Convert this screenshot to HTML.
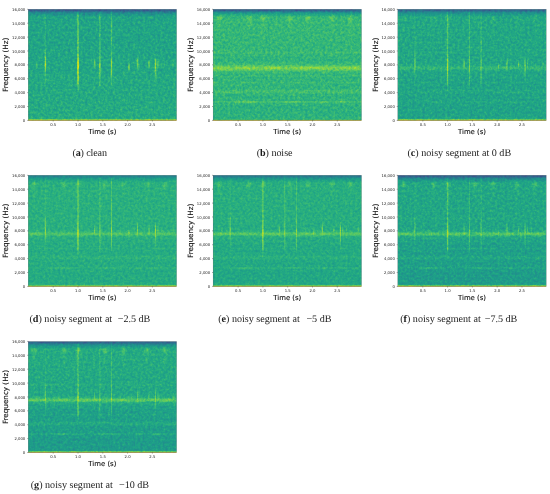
<!DOCTYPE html>
<html lang="en"><head><meta charset="utf-8"><title>Spectrograms</title>
<style>
html,body{margin:0;padding:0;background:#fff;}
body{width:550px;height:494px;overflow:hidden;}
svg{display:block;}
text{text-rendering:geometricPrecision;}
.tk{font-family:"DejaVu Sans","Liberation Sans",sans-serif;font-size:3.8px;fill:#222;}
.lb{font-family:"DejaVu Sans","Liberation Sans",sans-serif;font-size:6.9px;fill:#111;stroke:#111;stroke-width:0.12px;}
.ly{font-size:7.2px;}
.cp{font-family:"Liberation Serif","DejaVu Serif",serif;font-size:10.1px;fill:#1a1a1a;}
</style></head><body>
<svg width="550" height="494" viewBox="0 0 550 494">
<defs><radialGradient id="rw"><stop offset="0" stop-color="#fff" stop-opacity="1"/><stop offset="0.45" stop-color="#fff" stop-opacity="0.7"/><stop offset="1" stop-color="#fff" stop-opacity="0"/></radialGradient><filter id="f0" filterUnits="userSpaceOnUse" x="-2" y="-2" width="152.4" height="115.1" color-interpolation-filters="sRGB"><feTurbulence type="fractalNoise" baseFrequency="0.4 0.4" numOctaves="3" seed="3" result="n"/><feColorMatrix in="n" type="matrix" values="1 0 0 0 0 1 0 0 0 0 1 0 0 0 0 0 0 0 0 1" result="ng"/><feGaussianBlur in="SourceGraphic" stdDeviation="0.35" result="sg"/><feComposite in="sg" in2="ng" operator="arithmetic" k1="0" k2="1" k3="0.25" k4="-0.125" result="sum"/><feComponentTransfer in="sum"><feFuncR type="table" tableValues="0.267 0.277 0.282 0.283 0.279 0.271 0.259 0.245 0.230 0.214 0.199 0.186 0.173 0.161 0.149 0.138 0.128 0.121 0.121 0.132 0.158 0.197 0.246 0.304 0.369 0.440 0.516 0.596 0.678 0.762 0.846 0.926 0.993"/><feFuncG type="table" tableValues="0.005 0.050 0.095 0.136 0.175 0.214 0.252 0.288 0.322 0.356 0.388 0.419 0.449 0.479 0.508 0.537 0.567 0.596 0.626 0.655 0.684 0.712 0.739 0.765 0.789 0.811 0.831 0.849 0.864 0.876 0.887 0.897 0.906"/><feFuncB type="table" tableValues="0.329 0.376 0.417 0.453 0.483 0.507 0.525 0.537 0.546 0.551 0.555 0.557 0.558 0.558 0.557 0.555 0.551 0.544 0.533 0.520 0.502 0.479 0.452 0.420 0.383 0.341 0.294 0.243 0.190 0.137 0.100 0.104 0.144"/><feFuncA type="linear" slope="0" intercept="1"/></feComponentTransfer></filter><clipPath id="c0"><rect x="0" y="0" width="148.4" height="111.1"/></clipPath><linearGradient id="g1" x1="0" y1="0" x2="0" y2="1"><stop offset="0.000" stop-color="#000" stop-opacity="0.017"/><stop offset="0.282" stop-color="#000" stop-opacity="0.015"/><stop offset="0.453" stop-color="#000" stop-opacity="0.007"/><stop offset="0.504" stop-color="#fff" stop-opacity="0.000"/><stop offset="0.555" stop-color="#fff" stop-opacity="0.000"/><stop offset="0.589" stop-color="#fff" stop-opacity="0.025"/><stop offset="0.828" stop-color="#fff" stop-opacity="0.037"/><stop offset="0.854" stop-color="#fff" stop-opacity="0.049"/><stop offset="1.000" stop-color="#fff" stop-opacity="0.049"/></linearGradient><linearGradient id="g2" x1="0" y1="0" x2="0" y2="1"><stop offset="0.000" stop-color="#fff" stop-opacity="0.325"/><stop offset="0.216" stop-color="#fff" stop-opacity="0.350"/><stop offset="0.510" stop-color="#fff" stop-opacity="0.374"/><stop offset="0.571" stop-color="#fff" stop-opacity="0.547"/><stop offset="0.657" stop-color="#fff" stop-opacity="0.768"/><stop offset="0.743" stop-color="#fff" stop-opacity="0.596"/><stop offset="0.890" stop-color="#fff" stop-opacity="0.424"/><stop offset="0.902" stop-color="#fff" stop-opacity="0.177"/><stop offset="0.975" stop-color="#fff" stop-opacity="0.103"/><stop offset="1.000" stop-color="#fff" stop-opacity="0.000"/></linearGradient><linearGradient id="g3" x1="0" y1="0" x2="0" y2="1"><stop offset="0.000" stop-color="#fff" stop-opacity="0.251"/><stop offset="0.497" stop-color="#fff" stop-opacity="0.251"/><stop offset="0.630" stop-color="#fff" stop-opacity="0.374"/><stop offset="0.709" stop-color="#fff" stop-opacity="0.621"/><stop offset="0.788" stop-color="#fff" stop-opacity="0.399"/><stop offset="0.960" stop-color="#fff" stop-opacity="0.227"/><stop offset="1.000" stop-color="#fff" stop-opacity="0.000"/></linearGradient><linearGradient id="g4" x1="0" y1="0" x2="0" y2="1"><stop offset="0.000" stop-color="#fff" stop-opacity="0.300"/><stop offset="0.504" stop-color="#fff" stop-opacity="0.300"/><stop offset="0.638" stop-color="#fff" stop-opacity="0.424"/><stop offset="0.718" stop-color="#fff" stop-opacity="0.670"/><stop offset="0.799" stop-color="#fff" stop-opacity="0.448"/><stop offset="0.960" stop-color="#fff" stop-opacity="0.276"/><stop offset="1.000" stop-color="#fff" stop-opacity="0.000"/></linearGradient><linearGradient id="g5" x1="0" y1="0" x2="0" y2="1"><stop offset="0.000" stop-color="#fff" stop-opacity="0.128"/><stop offset="0.497" stop-color="#fff" stop-opacity="0.128"/><stop offset="0.537" stop-color="#fff" stop-opacity="0.350"/><stop offset="0.630" stop-color="#fff" stop-opacity="0.498"/><stop offset="0.696" stop-color="#fff" stop-opacity="0.695"/><stop offset="0.762" stop-color="#fff" stop-opacity="0.498"/><stop offset="0.815" stop-color="#fff" stop-opacity="0.300"/><stop offset="0.841" stop-color="#fff" stop-opacity="0.153"/><stop offset="0.960" stop-color="#fff" stop-opacity="0.128"/><stop offset="1.000" stop-color="#fff" stop-opacity="0.000"/></linearGradient><linearGradient id="g6" x1="0" y1="0" x2="0" y2="1"><stop offset="0.000" stop-color="#fff" stop-opacity="0.000"/><stop offset="0.250" stop-color="#fff" stop-opacity="0.121"/><stop offset="0.500" stop-color="#fff" stop-opacity="0.202"/><stop offset="0.750" stop-color="#fff" stop-opacity="0.101"/><stop offset="1.000" stop-color="#fff" stop-opacity="0.000"/></linearGradient><linearGradient id="g7" x1="0" y1="0" x2="0" y2="1"><stop offset="0.000" stop-color="#fff" stop-opacity="0.000"/><stop offset="0.250" stop-color="#fff" stop-opacity="0.299"/><stop offset="0.500" stop-color="#fff" stop-opacity="0.498"/><stop offset="0.750" stop-color="#fff" stop-opacity="0.249"/><stop offset="1.000" stop-color="#fff" stop-opacity="0.000"/></linearGradient><linearGradient id="g8" x1="0" y1="0" x2="0" y2="1"><stop offset="0.000" stop-color="#fff" stop-opacity="0.000"/><stop offset="0.250" stop-color="#fff" stop-opacity="0.106"/><stop offset="0.500" stop-color="#fff" stop-opacity="0.177"/><stop offset="0.750" stop-color="#fff" stop-opacity="0.089"/><stop offset="1.000" stop-color="#fff" stop-opacity="0.000"/></linearGradient><linearGradient id="g9" x1="0" y1="0" x2="0" y2="1"><stop offset="0.000" stop-color="#fff" stop-opacity="0.000"/><stop offset="0.250" stop-color="#fff" stop-opacity="0.284"/><stop offset="0.500" stop-color="#fff" stop-opacity="0.473"/><stop offset="0.750" stop-color="#fff" stop-opacity="0.236"/><stop offset="1.000" stop-color="#fff" stop-opacity="0.000"/></linearGradient><linearGradient id="g10" x1="0" y1="0" x2="0" y2="1"><stop offset="0.000" stop-color="#fff" stop-opacity="0.000"/><stop offset="0.250" stop-color="#fff" stop-opacity="0.343"/><stop offset="0.500" stop-color="#fff" stop-opacity="0.571"/><stop offset="0.750" stop-color="#fff" stop-opacity="0.286"/><stop offset="1.000" stop-color="#fff" stop-opacity="0.000"/></linearGradient><linearGradient id="g11" x1="0" y1="0" x2="0" y2="1"><stop offset="0.000" stop-color="#fff" stop-opacity="0.000"/><stop offset="0.250" stop-color="#fff" stop-opacity="0.284"/><stop offset="0.500" stop-color="#fff" stop-opacity="0.473"/><stop offset="0.750" stop-color="#fff" stop-opacity="0.236"/><stop offset="1.000" stop-color="#fff" stop-opacity="0.000"/></linearGradient><linearGradient id="g12" x1="0" y1="0" x2="0" y2="1"><stop offset="0.000" stop-color="#fff" stop-opacity="0.000"/><stop offset="0.166" stop-color="#fff" stop-opacity="0.402"/><stop offset="0.332" stop-color="#fff" stop-opacity="0.670"/><stop offset="0.666" stop-color="#fff" stop-opacity="0.335"/><stop offset="1.000" stop-color="#fff" stop-opacity="0.000"/></linearGradient><linearGradient id="g13" x1="0" y1="0" x2="0" y2="1"><stop offset="0.000" stop-color="#fff" stop-opacity="0.000"/><stop offset="0.250" stop-color="#fff" stop-opacity="0.254"/><stop offset="0.500" stop-color="#fff" stop-opacity="0.424"/><stop offset="0.750" stop-color="#fff" stop-opacity="0.212"/><stop offset="1.000" stop-color="#fff" stop-opacity="0.000"/></linearGradient><linearGradient id="g14" x1="0" y1="0" x2="0" y2="1"><stop offset="0.000" stop-color="#fff" stop-opacity="0.000"/><stop offset="0.250" stop-color="#fff" stop-opacity="0.121"/><stop offset="0.500" stop-color="#fff" stop-opacity="0.202"/><stop offset="0.750" stop-color="#fff" stop-opacity="0.101"/><stop offset="1.000" stop-color="#fff" stop-opacity="0.000"/></linearGradient><linearGradient id="g15" x1="0" y1="0" x2="0" y2="1"><stop offset="0.000" stop-color="#fff" stop-opacity="0.000"/><stop offset="0.250" stop-color="#fff" stop-opacity="0.166"/><stop offset="0.500" stop-color="#fff" stop-opacity="0.276"/><stop offset="0.750" stop-color="#fff" stop-opacity="0.138"/><stop offset="1.000" stop-color="#fff" stop-opacity="0.000"/></linearGradient><linearGradient id="g16" x1="0" y1="0" x2="0" y2="1"><stop offset="0.000" stop-color="#000" stop-opacity="0.495"/><stop offset="0.383" stop-color="#000" stop-opacity="0.478"/><stop offset="0.504" stop-color="#000" stop-opacity="0.257"/><stop offset="0.661" stop-color="#000" stop-opacity="0.129"/><stop offset="0.835" stop-color="#000" stop-opacity="0.040"/><stop offset="1.000" stop-color="#fff" stop-opacity="0.000"/></linearGradient><linearGradient id="g17" x1="0" y1="0" x2="0" y2="1"><stop offset="0.000" stop-color="#fff" stop-opacity="0.000"/><stop offset="0.120" stop-color="#fff" stop-opacity="0.433"/><stop offset="0.260" stop-color="#fff" stop-opacity="0.483"/><stop offset="0.340" stop-color="#fff" stop-opacity="0.828"/><stop offset="1.000" stop-color="#fff" stop-opacity="0.828"/></linearGradient><filter id="f1" filterUnits="userSpaceOnUse" x="-2" y="-2" width="152.4" height="115.1" color-interpolation-filters="sRGB"><feTurbulence type="fractalNoise" baseFrequency="0.4 0.4" numOctaves="3" seed="10" result="n"/><feColorMatrix in="n" type="matrix" values="1 0 0 0 0 1 0 0 0 0 1 0 0 0 0 0 0 0 0 1" result="ng"/><feGaussianBlur in="SourceGraphic" stdDeviation="0.35" result="sg"/><feComposite in="sg" in2="ng" operator="arithmetic" k1="0" k2="1" k3="0.23" k4="-0.115" result="sum"/><feComponentTransfer in="sum"><feFuncR type="table" tableValues="0.267 0.277 0.282 0.283 0.279 0.271 0.259 0.245 0.230 0.214 0.199 0.186 0.173 0.161 0.149 0.138 0.128 0.121 0.121 0.132 0.158 0.197 0.246 0.304 0.369 0.440 0.516 0.596 0.678 0.762 0.846 0.926 0.993"/><feFuncG type="table" tableValues="0.005 0.050 0.095 0.136 0.175 0.214 0.252 0.288 0.322 0.356 0.388 0.419 0.449 0.479 0.508 0.537 0.567 0.596 0.626 0.655 0.684 0.712 0.739 0.765 0.789 0.811 0.831 0.849 0.864 0.876 0.887 0.897 0.906"/><feFuncB type="table" tableValues="0.329 0.376 0.417 0.453 0.483 0.507 0.525 0.537 0.546 0.551 0.555 0.557 0.558 0.558 0.557 0.555 0.551 0.544 0.533 0.520 0.502 0.479 0.452 0.420 0.383 0.341 0.294 0.243 0.190 0.137 0.100 0.104 0.144"/><feFuncA type="linear" slope="0" intercept="1"/></feComponentTransfer></filter><clipPath id="c1"><rect x="0" y="0" width="148.4" height="111.1"/></clipPath><linearGradient id="g18" x1="0" y1="0" x2="0" y2="1"><stop offset="0.000" stop-color="#fff" stop-opacity="0.034"/><stop offset="0.534" stop-color="#fff" stop-opacity="0.034"/><stop offset="0.922" stop-color="#fff" stop-opacity="0.011"/><stop offset="1.000" stop-color="#fff" stop-opacity="0.000"/></linearGradient><linearGradient id="g19" x1="0" y1="0" x2="0" y2="1"><stop offset="0.000" stop-color="#fff" stop-opacity="0.000"/><stop offset="0.200" stop-color="#000" stop-opacity="0.015"/><stop offset="1.000" stop-color="#000" stop-opacity="0.018"/></linearGradient><linearGradient id="g20" x1="0" y1="0" x2="0" y2="1"><stop offset="0.000" stop-color="#fff" stop-opacity="0.000"/><stop offset="0.300" stop-color="#fff" stop-opacity="0.115"/><stop offset="0.700" stop-color="#fff" stop-opacity="0.115"/><stop offset="1.000" stop-color="#fff" stop-opacity="0.000"/></linearGradient><linearGradient id="g21" x1="0" y1="0" x2="0" y2="1"><stop offset="0.000" stop-color="#fff" stop-opacity="0.000"/><stop offset="0.300" stop-color="#fff" stop-opacity="0.216"/><stop offset="0.700" stop-color="#fff" stop-opacity="0.216"/><stop offset="1.000" stop-color="#fff" stop-opacity="0.000"/></linearGradient><linearGradient id="g22" x1="0" y1="0" x2="0" y2="1"><stop offset="0.000" stop-color="#fff" stop-opacity="0.000"/><stop offset="0.300" stop-color="#fff" stop-opacity="0.101"/><stop offset="0.700" stop-color="#fff" stop-opacity="0.101"/><stop offset="1.000" stop-color="#fff" stop-opacity="0.000"/></linearGradient><linearGradient id="g23" x1="0" y1="0" x2="0" y2="1"><stop offset="0.000" stop-color="#fff" stop-opacity="0.000"/><stop offset="0.300" stop-color="#fff" stop-opacity="0.086"/><stop offset="0.700" stop-color="#fff" stop-opacity="0.086"/><stop offset="1.000" stop-color="#fff" stop-opacity="0.000"/></linearGradient><linearGradient id="g24" x1="0" y1="0" x2="0" y2="1"><stop offset="0.000" stop-color="#fff" stop-opacity="0.000"/><stop offset="0.300" stop-color="#fff" stop-opacity="0.057"/><stop offset="0.700" stop-color="#fff" stop-opacity="0.057"/><stop offset="1.000" stop-color="#fff" stop-opacity="0.000"/></linearGradient><linearGradient id="g25" x1="0" y1="0" x2="0" y2="1"><stop offset="0.000" stop-color="#fff" stop-opacity="0.000"/><stop offset="0.300" stop-color="#fff" stop-opacity="0.080"/><stop offset="0.700" stop-color="#fff" stop-opacity="0.080"/><stop offset="1.000" stop-color="#fff" stop-opacity="0.000"/></linearGradient><linearGradient id="g26" x1="0" y1="0" x2="0" y2="1"><stop offset="0.000" stop-color="#fff" stop-opacity="0.000"/><stop offset="0.300" stop-color="#fff" stop-opacity="0.121"/><stop offset="0.700" stop-color="#fff" stop-opacity="0.121"/><stop offset="1.000" stop-color="#fff" stop-opacity="0.000"/></linearGradient><linearGradient id="g27" x1="0" y1="0" x2="0" y2="1"><stop offset="0.000" stop-color="#fff" stop-opacity="0.000"/><stop offset="0.300" stop-color="#fff" stop-opacity="0.115"/><stop offset="0.700" stop-color="#fff" stop-opacity="0.115"/><stop offset="1.000" stop-color="#fff" stop-opacity="0.000"/></linearGradient><linearGradient id="g28" x1="0" y1="0" x2="0" y2="1"><stop offset="0.000" stop-color="#fff" stop-opacity="0.000"/><stop offset="0.300" stop-color="#000" stop-opacity="0.018"/><stop offset="0.700" stop-color="#000" stop-opacity="0.018"/><stop offset="1.000" stop-color="#fff" stop-opacity="0.000"/></linearGradient><linearGradient id="g29" x1="0" y1="0" x2="0" y2="1"><stop offset="0.000" stop-color="#fff" stop-opacity="0.000"/><stop offset="0.300" stop-color="#000" stop-opacity="0.023"/><stop offset="0.700" stop-color="#000" stop-opacity="0.023"/><stop offset="1.000" stop-color="#fff" stop-opacity="0.000"/></linearGradient><linearGradient id="g30" x1="0" y1="0" x2="0" y2="1"><stop offset="0.000" stop-color="#fff" stop-opacity="0.000"/><stop offset="0.300" stop-color="#000" stop-opacity="0.018"/><stop offset="0.700" stop-color="#000" stop-opacity="0.018"/><stop offset="1.000" stop-color="#fff" stop-opacity="0.000"/></linearGradient><linearGradient id="g31" x1="0" y1="0" x2="0" y2="1"><stop offset="0.000" stop-color="#000" stop-opacity="0.525"/><stop offset="0.383" stop-color="#000" stop-opacity="0.509"/><stop offset="0.504" stop-color="#000" stop-opacity="0.273"/><stop offset="0.661" stop-color="#000" stop-opacity="0.136"/><stop offset="0.835" stop-color="#000" stop-opacity="0.042"/><stop offset="1.000" stop-color="#fff" stop-opacity="0.000"/></linearGradient><linearGradient id="g32" x1="0" y1="0" x2="0" y2="1"><stop offset="0.000" stop-color="#fff" stop-opacity="0.000"/><stop offset="0.146" stop-color="#fff" stop-opacity="0.339"/><stop offset="0.098" stop-color="#fff" stop-opacity="0.397"/><stop offset="0.195" stop-color="#fff" stop-opacity="0.799"/><stop offset="1.000" stop-color="#fff" stop-opacity="0.799"/></linearGradient><filter id="f2" filterUnits="userSpaceOnUse" x="-2" y="-2" width="152.4" height="115.1" color-interpolation-filters="sRGB"><feTurbulence type="fractalNoise" baseFrequency="0.4 0.4" numOctaves="3" seed="17" result="n"/><feColorMatrix in="n" type="matrix" values="1 0 0 0 0 1 0 0 0 0 1 0 0 0 0 0 0 0 0 1" result="ng"/><feGaussianBlur in="SourceGraphic" stdDeviation="0.35" result="sg"/><feComposite in="sg" in2="ng" operator="arithmetic" k1="0" k2="1" k3="0.24" k4="-0.120" result="sum"/><feComponentTransfer in="sum"><feFuncR type="table" tableValues="0.267 0.277 0.282 0.283 0.279 0.271 0.259 0.245 0.230 0.214 0.199 0.186 0.173 0.161 0.149 0.138 0.128 0.121 0.121 0.132 0.158 0.197 0.246 0.304 0.369 0.440 0.516 0.596 0.678 0.762 0.846 0.926 0.993"/><feFuncG type="table" tableValues="0.005 0.050 0.095 0.136 0.175 0.214 0.252 0.288 0.322 0.356 0.388 0.419 0.449 0.479 0.508 0.537 0.567 0.596 0.626 0.655 0.684 0.712 0.739 0.765 0.789 0.811 0.831 0.849 0.864 0.876 0.887 0.897 0.906"/><feFuncB type="table" tableValues="0.329 0.376 0.417 0.453 0.483 0.507 0.525 0.537 0.546 0.551 0.555 0.557 0.558 0.558 0.557 0.555 0.551 0.544 0.533 0.520 0.502 0.479 0.452 0.420 0.383 0.341 0.294 0.243 0.190 0.137 0.100 0.104 0.144"/><feFuncA type="linear" slope="0" intercept="1"/></feComponentTransfer></filter><clipPath id="c2"><rect x="0" y="0" width="148.4" height="111.1"/></clipPath><linearGradient id="g33" x1="0" y1="0" x2="0" y2="1"><stop offset="0.000" stop-color="#fff" stop-opacity="0.024"/><stop offset="0.282" stop-color="#fff" stop-opacity="0.022"/><stop offset="0.453" stop-color="#fff" stop-opacity="0.010"/><stop offset="0.504" stop-color="#fff" stop-opacity="0.000"/><stop offset="0.555" stop-color="#fff" stop-opacity="0.000"/><stop offset="0.589" stop-color="#000" stop-opacity="0.009"/><stop offset="0.828" stop-color="#000" stop-opacity="0.013"/><stop offset="0.854" stop-color="#000" stop-opacity="0.017"/><stop offset="1.000" stop-color="#000" stop-opacity="0.017"/></linearGradient><linearGradient id="g34" x1="0" y1="0" x2="0" y2="1"><stop offset="0.000" stop-color="#fff" stop-opacity="0.000"/><stop offset="0.300" stop-color="#fff" stop-opacity="0.044"/><stop offset="0.700" stop-color="#fff" stop-opacity="0.044"/><stop offset="1.000" stop-color="#fff" stop-opacity="0.000"/></linearGradient><linearGradient id="g35" x1="0" y1="0" x2="0" y2="1"><stop offset="0.000" stop-color="#fff" stop-opacity="0.000"/><stop offset="0.300" stop-color="#fff" stop-opacity="0.109"/><stop offset="0.700" stop-color="#fff" stop-opacity="0.109"/><stop offset="1.000" stop-color="#fff" stop-opacity="0.000"/></linearGradient><linearGradient id="g36" x1="0" y1="0" x2="0" y2="1"><stop offset="0.000" stop-color="#fff" stop-opacity="0.000"/><stop offset="0.300" stop-color="#fff" stop-opacity="0.022"/><stop offset="0.700" stop-color="#fff" stop-opacity="0.022"/><stop offset="1.000" stop-color="#fff" stop-opacity="0.000"/></linearGradient><linearGradient id="g37" x1="0" y1="0" x2="0" y2="1"><stop offset="0.000" stop-color="#fff" stop-opacity="0.000"/><stop offset="0.300" stop-color="#fff" stop-opacity="0.022"/><stop offset="0.700" stop-color="#fff" stop-opacity="0.022"/><stop offset="1.000" stop-color="#fff" stop-opacity="0.000"/></linearGradient><linearGradient id="g38" x1="0" y1="0" x2="0" y2="1"><stop offset="0.000" stop-color="#fff" stop-opacity="0.000"/><stop offset="0.300" stop-color="#fff" stop-opacity="0.022"/><stop offset="0.700" stop-color="#fff" stop-opacity="0.022"/><stop offset="1.000" stop-color="#fff" stop-opacity="0.000"/></linearGradient><linearGradient id="g39" x1="0" y1="0" x2="0" y2="1"><stop offset="0.000" stop-color="#fff" stop-opacity="0.000"/><stop offset="0.300" stop-color="#fff" stop-opacity="0.044"/><stop offset="0.700" stop-color="#fff" stop-opacity="0.044"/><stop offset="1.000" stop-color="#fff" stop-opacity="0.000"/></linearGradient><linearGradient id="g40" x1="0" y1="0" x2="0" y2="1"><stop offset="0.000" stop-color="#fff" stop-opacity="0.000"/><stop offset="0.300" stop-color="#fff" stop-opacity="0.033"/><stop offset="0.700" stop-color="#fff" stop-opacity="0.033"/><stop offset="1.000" stop-color="#fff" stop-opacity="0.000"/></linearGradient><linearGradient id="g41" x1="0" y1="0" x2="0" y2="1"><stop offset="0.000" stop-color="#fff" stop-opacity="0.301"/><stop offset="0.216" stop-color="#fff" stop-opacity="0.323"/><stop offset="0.510" stop-color="#fff" stop-opacity="0.346"/><stop offset="0.571" stop-color="#fff" stop-opacity="0.505"/><stop offset="0.657" stop-color="#fff" stop-opacity="0.710"/><stop offset="0.743" stop-color="#fff" stop-opacity="0.551"/><stop offset="0.890" stop-color="#fff" stop-opacity="0.392"/><stop offset="0.902" stop-color="#fff" stop-opacity="0.164"/><stop offset="0.975" stop-color="#fff" stop-opacity="0.096"/><stop offset="1.000" stop-color="#fff" stop-opacity="0.000"/></linearGradient><linearGradient id="g42" x1="0" y1="0" x2="0" y2="1"><stop offset="0.000" stop-color="#fff" stop-opacity="0.218"/><stop offset="0.497" stop-color="#fff" stop-opacity="0.218"/><stop offset="0.630" stop-color="#fff" stop-opacity="0.325"/><stop offset="0.709" stop-color="#fff" stop-opacity="0.538"/><stop offset="0.788" stop-color="#fff" stop-opacity="0.346"/><stop offset="0.960" stop-color="#fff" stop-opacity="0.197"/><stop offset="1.000" stop-color="#fff" stop-opacity="0.000"/></linearGradient><linearGradient id="g43" x1="0" y1="0" x2="0" y2="1"><stop offset="0.000" stop-color="#fff" stop-opacity="0.261"/><stop offset="0.504" stop-color="#fff" stop-opacity="0.261"/><stop offset="0.638" stop-color="#fff" stop-opacity="0.367"/><stop offset="0.718" stop-color="#fff" stop-opacity="0.581"/><stop offset="0.799" stop-color="#fff" stop-opacity="0.389"/><stop offset="0.960" stop-color="#fff" stop-opacity="0.239"/><stop offset="1.000" stop-color="#fff" stop-opacity="0.000"/></linearGradient><linearGradient id="g44" x1="0" y1="0" x2="0" y2="1"><stop offset="0.000" stop-color="#fff" stop-opacity="0.111"/><stop offset="0.497" stop-color="#fff" stop-opacity="0.111"/><stop offset="0.537" stop-color="#fff" stop-opacity="0.303"/><stop offset="0.630" stop-color="#fff" stop-opacity="0.431"/><stop offset="0.696" stop-color="#fff" stop-opacity="0.602"/><stop offset="0.762" stop-color="#fff" stop-opacity="0.431"/><stop offset="0.815" stop-color="#fff" stop-opacity="0.261"/><stop offset="0.841" stop-color="#fff" stop-opacity="0.132"/><stop offset="0.960" stop-color="#fff" stop-opacity="0.111"/><stop offset="1.000" stop-color="#fff" stop-opacity="0.000"/></linearGradient><linearGradient id="g45" x1="0" y1="0" x2="0" y2="1"><stop offset="0.000" stop-color="#fff" stop-opacity="0.000"/><stop offset="0.250" stop-color="#fff" stop-opacity="0.105"/><stop offset="0.500" stop-color="#fff" stop-opacity="0.175"/><stop offset="0.750" stop-color="#fff" stop-opacity="0.088"/><stop offset="1.000" stop-color="#fff" stop-opacity="0.000"/></linearGradient><linearGradient id="g46" x1="0" y1="0" x2="0" y2="1"><stop offset="0.000" stop-color="#fff" stop-opacity="0.000"/><stop offset="0.250" stop-color="#fff" stop-opacity="0.259"/><stop offset="0.500" stop-color="#fff" stop-opacity="0.431"/><stop offset="0.750" stop-color="#fff" stop-opacity="0.216"/><stop offset="1.000" stop-color="#fff" stop-opacity="0.000"/></linearGradient><linearGradient id="g47" x1="0" y1="0" x2="0" y2="1"><stop offset="0.000" stop-color="#fff" stop-opacity="0.000"/><stop offset="0.250" stop-color="#fff" stop-opacity="0.092"/><stop offset="0.500" stop-color="#fff" stop-opacity="0.154"/><stop offset="0.750" stop-color="#fff" stop-opacity="0.077"/><stop offset="1.000" stop-color="#fff" stop-opacity="0.000"/></linearGradient><linearGradient id="g48" x1="0" y1="0" x2="0" y2="1"><stop offset="0.000" stop-color="#fff" stop-opacity="0.000"/><stop offset="0.250" stop-color="#fff" stop-opacity="0.246"/><stop offset="0.500" stop-color="#fff" stop-opacity="0.410"/><stop offset="0.750" stop-color="#fff" stop-opacity="0.205"/><stop offset="1.000" stop-color="#fff" stop-opacity="0.000"/></linearGradient><linearGradient id="g49" x1="0" y1="0" x2="0" y2="1"><stop offset="0.000" stop-color="#fff" stop-opacity="0.000"/><stop offset="0.250" stop-color="#fff" stop-opacity="0.297"/><stop offset="0.500" stop-color="#fff" stop-opacity="0.496"/><stop offset="0.750" stop-color="#fff" stop-opacity="0.248"/><stop offset="1.000" stop-color="#fff" stop-opacity="0.000"/></linearGradient><linearGradient id="g50" x1="0" y1="0" x2="0" y2="1"><stop offset="0.000" stop-color="#fff" stop-opacity="0.000"/><stop offset="0.250" stop-color="#fff" stop-opacity="0.246"/><stop offset="0.500" stop-color="#fff" stop-opacity="0.410"/><stop offset="0.750" stop-color="#fff" stop-opacity="0.205"/><stop offset="1.000" stop-color="#fff" stop-opacity="0.000"/></linearGradient><linearGradient id="g51" x1="0" y1="0" x2="0" y2="1"><stop offset="0.000" stop-color="#fff" stop-opacity="0.000"/><stop offset="0.166" stop-color="#fff" stop-opacity="0.349"/><stop offset="0.332" stop-color="#fff" stop-opacity="0.581"/><stop offset="0.666" stop-color="#fff" stop-opacity="0.290"/><stop offset="1.000" stop-color="#fff" stop-opacity="0.000"/></linearGradient><linearGradient id="g52" x1="0" y1="0" x2="0" y2="1"><stop offset="0.000" stop-color="#fff" stop-opacity="0.000"/><stop offset="0.250" stop-color="#fff" stop-opacity="0.220"/><stop offset="0.500" stop-color="#fff" stop-opacity="0.367"/><stop offset="0.750" stop-color="#fff" stop-opacity="0.184"/><stop offset="1.000" stop-color="#fff" stop-opacity="0.000"/></linearGradient><linearGradient id="g53" x1="0" y1="0" x2="0" y2="1"><stop offset="0.000" stop-color="#fff" stop-opacity="0.000"/><stop offset="0.250" stop-color="#fff" stop-opacity="0.105"/><stop offset="0.500" stop-color="#fff" stop-opacity="0.175"/><stop offset="0.750" stop-color="#fff" stop-opacity="0.088"/><stop offset="1.000" stop-color="#fff" stop-opacity="0.000"/></linearGradient><linearGradient id="g54" x1="0" y1="0" x2="0" y2="1"><stop offset="0.000" stop-color="#fff" stop-opacity="0.000"/><stop offset="0.250" stop-color="#fff" stop-opacity="0.144"/><stop offset="0.500" stop-color="#fff" stop-opacity="0.239"/><stop offset="0.750" stop-color="#fff" stop-opacity="0.120"/><stop offset="1.000" stop-color="#fff" stop-opacity="0.000"/></linearGradient><linearGradient id="g55" x1="0" y1="0" x2="0" y2="1"><stop offset="0.000" stop-color="#000" stop-opacity="0.439"/><stop offset="0.383" stop-color="#000" stop-opacity="0.422"/><stop offset="0.504" stop-color="#000" stop-opacity="0.228"/><stop offset="0.661" stop-color="#000" stop-opacity="0.114"/><stop offset="0.835" stop-color="#000" stop-opacity="0.035"/><stop offset="1.000" stop-color="#fff" stop-opacity="0.000"/></linearGradient><linearGradient id="g56" x1="0" y1="0" x2="0" y2="1"><stop offset="0.000" stop-color="#fff" stop-opacity="0.000"/><stop offset="0.120" stop-color="#fff" stop-opacity="0.442"/><stop offset="0.260" stop-color="#fff" stop-opacity="0.490"/><stop offset="0.340" stop-color="#fff" stop-opacity="0.830"/><stop offset="1.000" stop-color="#fff" stop-opacity="0.830"/></linearGradient><filter id="f3" filterUnits="userSpaceOnUse" x="-2" y="-2" width="152.4" height="115.1" color-interpolation-filters="sRGB"><feTurbulence type="fractalNoise" baseFrequency="0.4 0.4" numOctaves="3" seed="24" result="n"/><feColorMatrix in="n" type="matrix" values="1 0 0 0 0 1 0 0 0 0 1 0 0 0 0 0 0 0 0 1" result="ng"/><feGaussianBlur in="SourceGraphic" stdDeviation="0.35" result="sg"/><feComposite in="sg" in2="ng" operator="arithmetic" k1="0" k2="1" k3="0.19" k4="-0.095" result="sum"/><feComponentTransfer in="sum"><feFuncR type="table" tableValues="0.267 0.277 0.282 0.283 0.279 0.271 0.259 0.245 0.230 0.214 0.199 0.186 0.173 0.161 0.149 0.138 0.128 0.121 0.121 0.132 0.158 0.197 0.246 0.304 0.369 0.440 0.516 0.596 0.678 0.762 0.846 0.926 0.993"/><feFuncG type="table" tableValues="0.005 0.050 0.095 0.136 0.175 0.214 0.252 0.288 0.322 0.356 0.388 0.419 0.449 0.479 0.508 0.537 0.567 0.596 0.626 0.655 0.684 0.712 0.739 0.765 0.789 0.811 0.831 0.849 0.864 0.876 0.887 0.897 0.906"/><feFuncB type="table" tableValues="0.329 0.376 0.417 0.453 0.483 0.507 0.525 0.537 0.546 0.551 0.555 0.557 0.558 0.558 0.557 0.555 0.551 0.544 0.533 0.520 0.502 0.479 0.452 0.420 0.383 0.341 0.294 0.243 0.190 0.137 0.100 0.104 0.144"/><feFuncA type="linear" slope="0" intercept="1"/></feComponentTransfer></filter><clipPath id="c3"><rect x="0" y="0" width="148.4" height="111.1"/></clipPath><linearGradient id="g57" x1="0" y1="0" x2="0" y2="1"><stop offset="0.000" stop-color="#fff" stop-opacity="0.021"/><stop offset="0.282" stop-color="#fff" stop-opacity="0.019"/><stop offset="0.453" stop-color="#fff" stop-opacity="0.008"/><stop offset="0.504" stop-color="#fff" stop-opacity="0.000"/><stop offset="0.555" stop-color="#fff" stop-opacity="0.000"/><stop offset="0.589" stop-color="#000" stop-opacity="0.010"/><stop offset="0.828" stop-color="#000" stop-opacity="0.014"/><stop offset="0.854" stop-color="#000" stop-opacity="0.019"/><stop offset="1.000" stop-color="#000" stop-opacity="0.019"/></linearGradient><linearGradient id="g58" x1="0" y1="0" x2="0" y2="1"><stop offset="0.000" stop-color="#fff" stop-opacity="0.000"/><stop offset="0.300" stop-color="#fff" stop-opacity="0.061"/><stop offset="0.700" stop-color="#fff" stop-opacity="0.061"/><stop offset="1.000" stop-color="#fff" stop-opacity="0.000"/></linearGradient><linearGradient id="g59" x1="0" y1="0" x2="0" y2="1"><stop offset="0.000" stop-color="#fff" stop-opacity="0.000"/><stop offset="0.300" stop-color="#fff" stop-opacity="0.153"/><stop offset="0.700" stop-color="#fff" stop-opacity="0.153"/><stop offset="1.000" stop-color="#fff" stop-opacity="0.000"/></linearGradient><linearGradient id="g60" x1="0" y1="0" x2="0" y2="1"><stop offset="0.000" stop-color="#fff" stop-opacity="0.000"/><stop offset="0.300" stop-color="#fff" stop-opacity="0.031"/><stop offset="0.700" stop-color="#fff" stop-opacity="0.031"/><stop offset="1.000" stop-color="#fff" stop-opacity="0.000"/></linearGradient><linearGradient id="g61" x1="0" y1="0" x2="0" y2="1"><stop offset="0.000" stop-color="#fff" stop-opacity="0.000"/><stop offset="0.300" stop-color="#fff" stop-opacity="0.031"/><stop offset="0.700" stop-color="#fff" stop-opacity="0.031"/><stop offset="1.000" stop-color="#fff" stop-opacity="0.000"/></linearGradient><linearGradient id="g62" x1="0" y1="0" x2="0" y2="1"><stop offset="0.000" stop-color="#fff" stop-opacity="0.000"/><stop offset="0.300" stop-color="#fff" stop-opacity="0.031"/><stop offset="0.700" stop-color="#fff" stop-opacity="0.031"/><stop offset="1.000" stop-color="#fff" stop-opacity="0.000"/></linearGradient><linearGradient id="g63" x1="0" y1="0" x2="0" y2="1"><stop offset="0.000" stop-color="#fff" stop-opacity="0.000"/><stop offset="0.300" stop-color="#fff" stop-opacity="0.061"/><stop offset="0.700" stop-color="#fff" stop-opacity="0.061"/><stop offset="1.000" stop-color="#fff" stop-opacity="0.000"/></linearGradient><linearGradient id="g64" x1="0" y1="0" x2="0" y2="1"><stop offset="0.000" stop-color="#fff" stop-opacity="0.000"/><stop offset="0.300" stop-color="#fff" stop-opacity="0.046"/><stop offset="0.700" stop-color="#fff" stop-opacity="0.046"/><stop offset="1.000" stop-color="#fff" stop-opacity="0.000"/></linearGradient><linearGradient id="g65" x1="0" y1="0" x2="0" y2="1"><stop offset="0.000" stop-color="#fff" stop-opacity="0.316"/><stop offset="0.216" stop-color="#fff" stop-opacity="0.340"/><stop offset="0.510" stop-color="#fff" stop-opacity="0.364"/><stop offset="0.571" stop-color="#fff" stop-opacity="0.532"/><stop offset="0.657" stop-color="#fff" stop-opacity="0.747"/><stop offset="0.743" stop-color="#fff" stop-opacity="0.580"/><stop offset="0.890" stop-color="#fff" stop-opacity="0.412"/><stop offset="0.902" stop-color="#fff" stop-opacity="0.172"/><stop offset="0.975" stop-color="#fff" stop-opacity="0.101"/><stop offset="1.000" stop-color="#fff" stop-opacity="0.000"/></linearGradient><linearGradient id="g66" x1="0" y1="0" x2="0" y2="1"><stop offset="0.000" stop-color="#fff" stop-opacity="0.221"/><stop offset="0.497" stop-color="#fff" stop-opacity="0.221"/><stop offset="0.630" stop-color="#fff" stop-opacity="0.330"/><stop offset="0.709" stop-color="#fff" stop-opacity="0.547"/><stop offset="0.788" stop-color="#fff" stop-opacity="0.351"/><stop offset="0.960" stop-color="#fff" stop-opacity="0.200"/><stop offset="1.000" stop-color="#fff" stop-opacity="0.000"/></linearGradient><linearGradient id="g67" x1="0" y1="0" x2="0" y2="1"><stop offset="0.000" stop-color="#fff" stop-opacity="0.265"/><stop offset="0.504" stop-color="#fff" stop-opacity="0.265"/><stop offset="0.638" stop-color="#fff" stop-opacity="0.373"/><stop offset="0.718" stop-color="#fff" stop-opacity="0.590"/><stop offset="0.799" stop-color="#fff" stop-opacity="0.395"/><stop offset="0.960" stop-color="#fff" stop-opacity="0.243"/><stop offset="1.000" stop-color="#fff" stop-opacity="0.000"/></linearGradient><linearGradient id="g68" x1="0" y1="0" x2="0" y2="1"><stop offset="0.000" stop-color="#fff" stop-opacity="0.113"/><stop offset="0.497" stop-color="#fff" stop-opacity="0.113"/><stop offset="0.537" stop-color="#fff" stop-opacity="0.308"/><stop offset="0.630" stop-color="#fff" stop-opacity="0.438"/><stop offset="0.696" stop-color="#fff" stop-opacity="0.612"/><stop offset="0.762" stop-color="#fff" stop-opacity="0.438"/><stop offset="0.815" stop-color="#fff" stop-opacity="0.265"/><stop offset="0.841" stop-color="#fff" stop-opacity="0.134"/><stop offset="0.960" stop-color="#fff" stop-opacity="0.113"/><stop offset="1.000" stop-color="#fff" stop-opacity="0.000"/></linearGradient><linearGradient id="g69" x1="0" y1="0" x2="0" y2="1"><stop offset="0.000" stop-color="#fff" stop-opacity="0.000"/><stop offset="0.250" stop-color="#fff" stop-opacity="0.107"/><stop offset="0.500" stop-color="#fff" stop-opacity="0.178"/><stop offset="0.750" stop-color="#fff" stop-opacity="0.089"/><stop offset="1.000" stop-color="#fff" stop-opacity="0.000"/></linearGradient><linearGradient id="g70" x1="0" y1="0" x2="0" y2="1"><stop offset="0.000" stop-color="#fff" stop-opacity="0.000"/><stop offset="0.250" stop-color="#fff" stop-opacity="0.263"/><stop offset="0.500" stop-color="#fff" stop-opacity="0.438"/><stop offset="0.750" stop-color="#fff" stop-opacity="0.219"/><stop offset="1.000" stop-color="#fff" stop-opacity="0.000"/></linearGradient><linearGradient id="g71" x1="0" y1="0" x2="0" y2="1"><stop offset="0.000" stop-color="#fff" stop-opacity="0.000"/><stop offset="0.250" stop-color="#fff" stop-opacity="0.094"/><stop offset="0.500" stop-color="#fff" stop-opacity="0.156"/><stop offset="0.750" stop-color="#fff" stop-opacity="0.078"/><stop offset="1.000" stop-color="#fff" stop-opacity="0.000"/></linearGradient><linearGradient id="g72" x1="0" y1="0" x2="0" y2="1"><stop offset="0.000" stop-color="#fff" stop-opacity="0.000"/><stop offset="0.250" stop-color="#fff" stop-opacity="0.250"/><stop offset="0.500" stop-color="#fff" stop-opacity="0.417"/><stop offset="0.750" stop-color="#fff" stop-opacity="0.208"/><stop offset="1.000" stop-color="#fff" stop-opacity="0.000"/></linearGradient><linearGradient id="g73" x1="0" y1="0" x2="0" y2="1"><stop offset="0.000" stop-color="#fff" stop-opacity="0.000"/><stop offset="0.250" stop-color="#fff" stop-opacity="0.302"/><stop offset="0.500" stop-color="#fff" stop-opacity="0.503"/><stop offset="0.750" stop-color="#fff" stop-opacity="0.252"/><stop offset="1.000" stop-color="#fff" stop-opacity="0.000"/></linearGradient><linearGradient id="g74" x1="0" y1="0" x2="0" y2="1"><stop offset="0.000" stop-color="#fff" stop-opacity="0.000"/><stop offset="0.250" stop-color="#fff" stop-opacity="0.250"/><stop offset="0.500" stop-color="#fff" stop-opacity="0.417"/><stop offset="0.750" stop-color="#fff" stop-opacity="0.208"/><stop offset="1.000" stop-color="#fff" stop-opacity="0.000"/></linearGradient><linearGradient id="g75" x1="0" y1="0" x2="0" y2="1"><stop offset="0.000" stop-color="#fff" stop-opacity="0.000"/><stop offset="0.166" stop-color="#fff" stop-opacity="0.354"/><stop offset="0.332" stop-color="#fff" stop-opacity="0.590"/><stop offset="0.666" stop-color="#fff" stop-opacity="0.295"/><stop offset="1.000" stop-color="#fff" stop-opacity="0.000"/></linearGradient><linearGradient id="g76" x1="0" y1="0" x2="0" y2="1"><stop offset="0.000" stop-color="#fff" stop-opacity="0.000"/><stop offset="0.250" stop-color="#fff" stop-opacity="0.224"/><stop offset="0.500" stop-color="#fff" stop-opacity="0.373"/><stop offset="0.750" stop-color="#fff" stop-opacity="0.187"/><stop offset="1.000" stop-color="#fff" stop-opacity="0.000"/></linearGradient><linearGradient id="g77" x1="0" y1="0" x2="0" y2="1"><stop offset="0.000" stop-color="#fff" stop-opacity="0.000"/><stop offset="0.250" stop-color="#fff" stop-opacity="0.107"/><stop offset="0.500" stop-color="#fff" stop-opacity="0.178"/><stop offset="0.750" stop-color="#fff" stop-opacity="0.089"/><stop offset="1.000" stop-color="#fff" stop-opacity="0.000"/></linearGradient><linearGradient id="g78" x1="0" y1="0" x2="0" y2="1"><stop offset="0.000" stop-color="#fff" stop-opacity="0.000"/><stop offset="0.250" stop-color="#fff" stop-opacity="0.146"/><stop offset="0.500" stop-color="#fff" stop-opacity="0.243"/><stop offset="0.750" stop-color="#fff" stop-opacity="0.121"/><stop offset="1.000" stop-color="#fff" stop-opacity="0.000"/></linearGradient><linearGradient id="g79" x1="0" y1="0" x2="0" y2="1"><stop offset="0.000" stop-color="#000" stop-opacity="0.293"/><stop offset="0.383" stop-color="#000" stop-opacity="0.277"/><stop offset="0.504" stop-color="#000" stop-opacity="0.152"/><stop offset="0.661" stop-color="#000" stop-opacity="0.076"/><stop offset="0.835" stop-color="#000" stop-opacity="0.023"/><stop offset="1.000" stop-color="#fff" stop-opacity="0.000"/></linearGradient><linearGradient id="g80" x1="0" y1="0" x2="0" y2="1"><stop offset="0.000" stop-color="#fff" stop-opacity="0.000"/><stop offset="0.120" stop-color="#fff" stop-opacity="0.392"/><stop offset="0.260" stop-color="#fff" stop-opacity="0.444"/><stop offset="0.340" stop-color="#fff" stop-opacity="0.815"/><stop offset="1.000" stop-color="#fff" stop-opacity="0.815"/></linearGradient><filter id="f4" filterUnits="userSpaceOnUse" x="-2" y="-2" width="152.4" height="115.1" color-interpolation-filters="sRGB"><feTurbulence type="fractalNoise" baseFrequency="0.4 0.4" numOctaves="3" seed="31" result="n"/><feColorMatrix in="n" type="matrix" values="1 0 0 0 0 1 0 0 0 0 1 0 0 0 0 0 0 0 0 1" result="ng"/><feGaussianBlur in="SourceGraphic" stdDeviation="0.35" result="sg"/><feComposite in="sg" in2="ng" operator="arithmetic" k1="0" k2="1" k3="0.2" k4="-0.100" result="sum"/><feComponentTransfer in="sum"><feFuncR type="table" tableValues="0.267 0.277 0.282 0.283 0.279 0.271 0.259 0.245 0.230 0.214 0.199 0.186 0.173 0.161 0.149 0.138 0.128 0.121 0.121 0.132 0.158 0.197 0.246 0.304 0.369 0.440 0.516 0.596 0.678 0.762 0.846 0.926 0.993"/><feFuncG type="table" tableValues="0.005 0.050 0.095 0.136 0.175 0.214 0.252 0.288 0.322 0.356 0.388 0.419 0.449 0.479 0.508 0.537 0.567 0.596 0.626 0.655 0.684 0.712 0.739 0.765 0.789 0.811 0.831 0.849 0.864 0.876 0.887 0.897 0.906"/><feFuncB type="table" tableValues="0.329 0.376 0.417 0.453 0.483 0.507 0.525 0.537 0.546 0.551 0.555 0.557 0.558 0.558 0.557 0.555 0.551 0.544 0.533 0.520 0.502 0.479 0.452 0.420 0.383 0.341 0.294 0.243 0.190 0.137 0.100 0.104 0.144"/><feFuncA type="linear" slope="0" intercept="1"/></feComponentTransfer></filter><clipPath id="c4"><rect x="0" y="0" width="148.4" height="111.1"/></clipPath><linearGradient id="g81" x1="0" y1="0" x2="0" y2="1"><stop offset="0.000" stop-color="#fff" stop-opacity="0.026"/><stop offset="0.282" stop-color="#fff" stop-opacity="0.023"/><stop offset="0.453" stop-color="#fff" stop-opacity="0.010"/><stop offset="0.504" stop-color="#fff" stop-opacity="0.000"/><stop offset="0.555" stop-color="#fff" stop-opacity="0.000"/><stop offset="0.589" stop-color="#000" stop-opacity="0.016"/><stop offset="0.828" stop-color="#000" stop-opacity="0.024"/><stop offset="0.854" stop-color="#000" stop-opacity="0.033"/><stop offset="1.000" stop-color="#000" stop-opacity="0.033"/></linearGradient><linearGradient id="g82" x1="0" y1="0" x2="0" y2="1"><stop offset="0.000" stop-color="#fff" stop-opacity="0.000"/><stop offset="0.300" stop-color="#fff" stop-opacity="0.073"/><stop offset="0.700" stop-color="#fff" stop-opacity="0.073"/><stop offset="1.000" stop-color="#fff" stop-opacity="0.000"/></linearGradient><linearGradient id="g83" x1="0" y1="0" x2="0" y2="1"><stop offset="0.000" stop-color="#fff" stop-opacity="0.000"/><stop offset="0.300" stop-color="#fff" stop-opacity="0.182"/><stop offset="0.700" stop-color="#fff" stop-opacity="0.182"/><stop offset="1.000" stop-color="#fff" stop-opacity="0.000"/></linearGradient><linearGradient id="g84" x1="0" y1="0" x2="0" y2="1"><stop offset="0.000" stop-color="#fff" stop-opacity="0.000"/><stop offset="0.300" stop-color="#fff" stop-opacity="0.036"/><stop offset="0.700" stop-color="#fff" stop-opacity="0.036"/><stop offset="1.000" stop-color="#fff" stop-opacity="0.000"/></linearGradient><linearGradient id="g85" x1="0" y1="0" x2="0" y2="1"><stop offset="0.000" stop-color="#fff" stop-opacity="0.000"/><stop offset="0.300" stop-color="#fff" stop-opacity="0.036"/><stop offset="0.700" stop-color="#fff" stop-opacity="0.036"/><stop offset="1.000" stop-color="#fff" stop-opacity="0.000"/></linearGradient><linearGradient id="g86" x1="0" y1="0" x2="0" y2="1"><stop offset="0.000" stop-color="#fff" stop-opacity="0.000"/><stop offset="0.300" stop-color="#fff" stop-opacity="0.036"/><stop offset="0.700" stop-color="#fff" stop-opacity="0.036"/><stop offset="1.000" stop-color="#fff" stop-opacity="0.000"/></linearGradient><linearGradient id="g87" x1="0" y1="0" x2="0" y2="1"><stop offset="0.000" stop-color="#fff" stop-opacity="0.000"/><stop offset="0.300" stop-color="#fff" stop-opacity="0.073"/><stop offset="0.700" stop-color="#fff" stop-opacity="0.073"/><stop offset="1.000" stop-color="#fff" stop-opacity="0.000"/></linearGradient><linearGradient id="g88" x1="0" y1="0" x2="0" y2="1"><stop offset="0.000" stop-color="#fff" stop-opacity="0.000"/><stop offset="0.300" stop-color="#fff" stop-opacity="0.055"/><stop offset="0.700" stop-color="#fff" stop-opacity="0.055"/><stop offset="1.000" stop-color="#fff" stop-opacity="0.000"/></linearGradient><linearGradient id="g89" x1="0" y1="0" x2="0" y2="1"><stop offset="0.000" stop-color="#fff" stop-opacity="0.299"/><stop offset="0.216" stop-color="#fff" stop-opacity="0.322"/><stop offset="0.510" stop-color="#fff" stop-opacity="0.344"/><stop offset="0.571" stop-color="#fff" stop-opacity="0.503"/><stop offset="0.657" stop-color="#fff" stop-opacity="0.706"/><stop offset="0.743" stop-color="#fff" stop-opacity="0.548"/><stop offset="0.890" stop-color="#fff" stop-opacity="0.389"/><stop offset="0.902" stop-color="#fff" stop-opacity="0.163"/><stop offset="0.975" stop-color="#fff" stop-opacity="0.095"/><stop offset="1.000" stop-color="#fff" stop-opacity="0.000"/></linearGradient><linearGradient id="g90" x1="0" y1="0" x2="0" y2="1"><stop offset="0.000" stop-color="#fff" stop-opacity="0.201"/><stop offset="0.497" stop-color="#fff" stop-opacity="0.201"/><stop offset="0.630" stop-color="#fff" stop-opacity="0.300"/><stop offset="0.709" stop-color="#fff" stop-opacity="0.497"/><stop offset="0.788" stop-color="#fff" stop-opacity="0.320"/><stop offset="0.960" stop-color="#fff" stop-opacity="0.182"/><stop offset="1.000" stop-color="#fff" stop-opacity="0.000"/></linearGradient><linearGradient id="g91" x1="0" y1="0" x2="0" y2="1"><stop offset="0.000" stop-color="#fff" stop-opacity="0.241"/><stop offset="0.504" stop-color="#fff" stop-opacity="0.241"/><stop offset="0.638" stop-color="#fff" stop-opacity="0.340"/><stop offset="0.718" stop-color="#fff" stop-opacity="0.537"/><stop offset="0.799" stop-color="#fff" stop-opacity="0.359"/><stop offset="0.960" stop-color="#fff" stop-opacity="0.221"/><stop offset="1.000" stop-color="#fff" stop-opacity="0.000"/></linearGradient><linearGradient id="g92" x1="0" y1="0" x2="0" y2="1"><stop offset="0.000" stop-color="#fff" stop-opacity="0.103"/><stop offset="0.497" stop-color="#fff" stop-opacity="0.103"/><stop offset="0.537" stop-color="#fff" stop-opacity="0.280"/><stop offset="0.630" stop-color="#fff" stop-opacity="0.399"/><stop offset="0.696" stop-color="#fff" stop-opacity="0.557"/><stop offset="0.762" stop-color="#fff" stop-opacity="0.399"/><stop offset="0.815" stop-color="#fff" stop-opacity="0.241"/><stop offset="0.841" stop-color="#fff" stop-opacity="0.122"/><stop offset="0.960" stop-color="#fff" stop-opacity="0.103"/><stop offset="1.000" stop-color="#fff" stop-opacity="0.000"/></linearGradient><linearGradient id="g93" x1="0" y1="0" x2="0" y2="1"><stop offset="0.000" stop-color="#fff" stop-opacity="0.000"/><stop offset="0.250" stop-color="#fff" stop-opacity="0.097"/><stop offset="0.500" stop-color="#fff" stop-opacity="0.162"/><stop offset="0.750" stop-color="#fff" stop-opacity="0.081"/><stop offset="1.000" stop-color="#fff" stop-opacity="0.000"/></linearGradient><linearGradient id="g94" x1="0" y1="0" x2="0" y2="1"><stop offset="0.000" stop-color="#fff" stop-opacity="0.000"/><stop offset="0.250" stop-color="#fff" stop-opacity="0.239"/><stop offset="0.500" stop-color="#fff" stop-opacity="0.399"/><stop offset="0.750" stop-color="#fff" stop-opacity="0.199"/><stop offset="1.000" stop-color="#fff" stop-opacity="0.000"/></linearGradient><linearGradient id="g95" x1="0" y1="0" x2="0" y2="1"><stop offset="0.000" stop-color="#fff" stop-opacity="0.000"/><stop offset="0.250" stop-color="#fff" stop-opacity="0.085"/><stop offset="0.500" stop-color="#fff" stop-opacity="0.142"/><stop offset="0.750" stop-color="#fff" stop-opacity="0.071"/><stop offset="1.000" stop-color="#fff" stop-opacity="0.000"/></linearGradient><linearGradient id="g96" x1="0" y1="0" x2="0" y2="1"><stop offset="0.000" stop-color="#fff" stop-opacity="0.000"/><stop offset="0.250" stop-color="#fff" stop-opacity="0.227"/><stop offset="0.500" stop-color="#fff" stop-opacity="0.379"/><stop offset="0.750" stop-color="#fff" stop-opacity="0.190"/><stop offset="1.000" stop-color="#fff" stop-opacity="0.000"/></linearGradient><linearGradient id="g97" x1="0" y1="0" x2="0" y2="1"><stop offset="0.000" stop-color="#fff" stop-opacity="0.000"/><stop offset="0.250" stop-color="#fff" stop-opacity="0.275"/><stop offset="0.500" stop-color="#fff" stop-opacity="0.458"/><stop offset="0.750" stop-color="#fff" stop-opacity="0.229"/><stop offset="1.000" stop-color="#fff" stop-opacity="0.000"/></linearGradient><linearGradient id="g98" x1="0" y1="0" x2="0" y2="1"><stop offset="0.000" stop-color="#fff" stop-opacity="0.000"/><stop offset="0.250" stop-color="#fff" stop-opacity="0.227"/><stop offset="0.500" stop-color="#fff" stop-opacity="0.379"/><stop offset="0.750" stop-color="#fff" stop-opacity="0.190"/><stop offset="1.000" stop-color="#fff" stop-opacity="0.000"/></linearGradient><linearGradient id="g99" x1="0" y1="0" x2="0" y2="1"><stop offset="0.000" stop-color="#fff" stop-opacity="0.000"/><stop offset="0.166" stop-color="#fff" stop-opacity="0.322"/><stop offset="0.332" stop-color="#fff" stop-opacity="0.537"/><stop offset="0.666" stop-color="#fff" stop-opacity="0.268"/><stop offset="1.000" stop-color="#fff" stop-opacity="0.000"/></linearGradient><linearGradient id="g100" x1="0" y1="0" x2="0" y2="1"><stop offset="0.000" stop-color="#fff" stop-opacity="0.000"/><stop offset="0.250" stop-color="#fff" stop-opacity="0.204"/><stop offset="0.500" stop-color="#fff" stop-opacity="0.340"/><stop offset="0.750" stop-color="#fff" stop-opacity="0.170"/><stop offset="1.000" stop-color="#fff" stop-opacity="0.000"/></linearGradient><linearGradient id="g101" x1="0" y1="0" x2="0" y2="1"><stop offset="0.000" stop-color="#fff" stop-opacity="0.000"/><stop offset="0.250" stop-color="#fff" stop-opacity="0.097"/><stop offset="0.500" stop-color="#fff" stop-opacity="0.162"/><stop offset="0.750" stop-color="#fff" stop-opacity="0.081"/><stop offset="1.000" stop-color="#fff" stop-opacity="0.000"/></linearGradient><linearGradient id="g102" x1="0" y1="0" x2="0" y2="1"><stop offset="0.000" stop-color="#fff" stop-opacity="0.000"/><stop offset="0.250" stop-color="#fff" stop-opacity="0.133"/><stop offset="0.500" stop-color="#fff" stop-opacity="0.221"/><stop offset="0.750" stop-color="#fff" stop-opacity="0.111"/><stop offset="1.000" stop-color="#fff" stop-opacity="0.000"/></linearGradient><linearGradient id="g103" x1="0" y1="0" x2="0" y2="1"><stop offset="0.000" stop-color="#000" stop-opacity="0.350"/><stop offset="0.383" stop-color="#000" stop-opacity="0.333"/><stop offset="0.504" stop-color="#000" stop-opacity="0.182"/><stop offset="0.661" stop-color="#000" stop-opacity="0.091"/><stop offset="0.835" stop-color="#000" stop-opacity="0.028"/><stop offset="1.000" stop-color="#fff" stop-opacity="0.000"/></linearGradient><linearGradient id="g104" x1="0" y1="0" x2="0" y2="1"><stop offset="0.000" stop-color="#fff" stop-opacity="0.000"/><stop offset="0.120" stop-color="#fff" stop-opacity="0.403"/><stop offset="0.260" stop-color="#fff" stop-opacity="0.455"/><stop offset="0.340" stop-color="#fff" stop-opacity="0.818"/><stop offset="1.000" stop-color="#fff" stop-opacity="0.818"/></linearGradient><filter id="f5" filterUnits="userSpaceOnUse" x="-2" y="-2" width="152.4" height="115.1" color-interpolation-filters="sRGB"><feTurbulence type="fractalNoise" baseFrequency="0.4 0.4" numOctaves="3" seed="38" result="n"/><feColorMatrix in="n" type="matrix" values="1 0 0 0 0 1 0 0 0 0 1 0 0 0 0 0 0 0 0 1" result="ng"/><feGaussianBlur in="SourceGraphic" stdDeviation="0.35" result="sg"/><feComposite in="sg" in2="ng" operator="arithmetic" k1="0" k2="1" k3="0.23" k4="-0.115" result="sum"/><feComponentTransfer in="sum"><feFuncR type="table" tableValues="0.267 0.277 0.282 0.283 0.279 0.271 0.259 0.245 0.230 0.214 0.199 0.186 0.173 0.161 0.149 0.138 0.128 0.121 0.121 0.132 0.158 0.197 0.246 0.304 0.369 0.440 0.516 0.596 0.678 0.762 0.846 0.926 0.993"/><feFuncG type="table" tableValues="0.005 0.050 0.095 0.136 0.175 0.214 0.252 0.288 0.322 0.356 0.388 0.419 0.449 0.479 0.508 0.537 0.567 0.596 0.626 0.655 0.684 0.712 0.739 0.765 0.789 0.811 0.831 0.849 0.864 0.876 0.887 0.897 0.906"/><feFuncB type="table" tableValues="0.329 0.376 0.417 0.453 0.483 0.507 0.525 0.537 0.546 0.551 0.555 0.557 0.558 0.558 0.557 0.555 0.551 0.544 0.533 0.520 0.502 0.479 0.452 0.420 0.383 0.341 0.294 0.243 0.190 0.137 0.100 0.104 0.144"/><feFuncA type="linear" slope="0" intercept="1"/></feComponentTransfer></filter><clipPath id="c5"><rect x="0" y="0" width="148.4" height="111.1"/></clipPath><linearGradient id="g105" x1="0" y1="0" x2="0" y2="1"><stop offset="0.000" stop-color="#fff" stop-opacity="0.024"/><stop offset="0.282" stop-color="#fff" stop-opacity="0.022"/><stop offset="0.453" stop-color="#fff" stop-opacity="0.010"/><stop offset="0.504" stop-color="#fff" stop-opacity="0.000"/><stop offset="0.555" stop-color="#fff" stop-opacity="0.000"/><stop offset="0.589" stop-color="#000" stop-opacity="0.030"/><stop offset="0.828" stop-color="#000" stop-opacity="0.045"/><stop offset="0.854" stop-color="#000" stop-opacity="0.060"/><stop offset="1.000" stop-color="#000" stop-opacity="0.060"/></linearGradient><linearGradient id="g106" x1="0" y1="0" x2="0" y2="1"><stop offset="0.000" stop-color="#fff" stop-opacity="0.000"/><stop offset="0.300" stop-color="#fff" stop-opacity="0.082"/><stop offset="0.700" stop-color="#fff" stop-opacity="0.082"/><stop offset="1.000" stop-color="#fff" stop-opacity="0.000"/></linearGradient><linearGradient id="g107" x1="0" y1="0" x2="0" y2="1"><stop offset="0.000" stop-color="#fff" stop-opacity="0.000"/><stop offset="0.300" stop-color="#fff" stop-opacity="0.205"/><stop offset="0.700" stop-color="#fff" stop-opacity="0.205"/><stop offset="1.000" stop-color="#fff" stop-opacity="0.000"/></linearGradient><linearGradient id="g108" x1="0" y1="0" x2="0" y2="1"><stop offset="0.000" stop-color="#fff" stop-opacity="0.000"/><stop offset="0.300" stop-color="#fff" stop-opacity="0.041"/><stop offset="0.700" stop-color="#fff" stop-opacity="0.041"/><stop offset="1.000" stop-color="#fff" stop-opacity="0.000"/></linearGradient><linearGradient id="g109" x1="0" y1="0" x2="0" y2="1"><stop offset="0.000" stop-color="#fff" stop-opacity="0.000"/><stop offset="0.300" stop-color="#fff" stop-opacity="0.041"/><stop offset="0.700" stop-color="#fff" stop-opacity="0.041"/><stop offset="1.000" stop-color="#fff" stop-opacity="0.000"/></linearGradient><linearGradient id="g110" x1="0" y1="0" x2="0" y2="1"><stop offset="0.000" stop-color="#fff" stop-opacity="0.000"/><stop offset="0.300" stop-color="#fff" stop-opacity="0.041"/><stop offset="0.700" stop-color="#fff" stop-opacity="0.041"/><stop offset="1.000" stop-color="#fff" stop-opacity="0.000"/></linearGradient><linearGradient id="g111" x1="0" y1="0" x2="0" y2="1"><stop offset="0.000" stop-color="#fff" stop-opacity="0.000"/><stop offset="0.300" stop-color="#fff" stop-opacity="0.082"/><stop offset="0.700" stop-color="#fff" stop-opacity="0.082"/><stop offset="1.000" stop-color="#fff" stop-opacity="0.000"/></linearGradient><linearGradient id="g112" x1="0" y1="0" x2="0" y2="1"><stop offset="0.000" stop-color="#fff" stop-opacity="0.000"/><stop offset="0.300" stop-color="#fff" stop-opacity="0.061"/><stop offset="0.700" stop-color="#fff" stop-opacity="0.061"/><stop offset="1.000" stop-color="#fff" stop-opacity="0.000"/></linearGradient><linearGradient id="g113" x1="0" y1="0" x2="0" y2="1"><stop offset="0.000" stop-color="#fff" stop-opacity="0.270"/><stop offset="0.216" stop-color="#fff" stop-opacity="0.290"/><stop offset="0.510" stop-color="#fff" stop-opacity="0.311"/><stop offset="0.571" stop-color="#fff" stop-opacity="0.454"/><stop offset="0.657" stop-color="#fff" stop-opacity="0.638"/><stop offset="0.743" stop-color="#fff" stop-opacity="0.495"/><stop offset="0.890" stop-color="#fff" stop-opacity="0.352"/><stop offset="0.902" stop-color="#fff" stop-opacity="0.147"/><stop offset="0.975" stop-color="#fff" stop-opacity="0.086"/><stop offset="1.000" stop-color="#fff" stop-opacity="0.000"/></linearGradient><linearGradient id="g114" x1="0" y1="0" x2="0" y2="1"><stop offset="0.000" stop-color="#fff" stop-opacity="0.177"/><stop offset="0.497" stop-color="#fff" stop-opacity="0.177"/><stop offset="0.630" stop-color="#fff" stop-opacity="0.264"/><stop offset="0.709" stop-color="#fff" stop-opacity="0.437"/><stop offset="0.788" stop-color="#fff" stop-opacity="0.281"/><stop offset="0.960" stop-color="#fff" stop-opacity="0.160"/><stop offset="1.000" stop-color="#fff" stop-opacity="0.000"/></linearGradient><linearGradient id="g115" x1="0" y1="0" x2="0" y2="1"><stop offset="0.000" stop-color="#fff" stop-opacity="0.212"/><stop offset="0.504" stop-color="#fff" stop-opacity="0.212"/><stop offset="0.638" stop-color="#fff" stop-opacity="0.298"/><stop offset="0.718" stop-color="#fff" stop-opacity="0.472"/><stop offset="0.799" stop-color="#fff" stop-opacity="0.316"/><stop offset="0.960" stop-color="#fff" stop-opacity="0.194"/><stop offset="1.000" stop-color="#fff" stop-opacity="0.000"/></linearGradient><linearGradient id="g116" x1="0" y1="0" x2="0" y2="1"><stop offset="0.000" stop-color="#fff" stop-opacity="0.090"/><stop offset="0.497" stop-color="#fff" stop-opacity="0.090"/><stop offset="0.537" stop-color="#fff" stop-opacity="0.246"/><stop offset="0.630" stop-color="#fff" stop-opacity="0.350"/><stop offset="0.696" stop-color="#fff" stop-opacity="0.489"/><stop offset="0.762" stop-color="#fff" stop-opacity="0.350"/><stop offset="0.815" stop-color="#fff" stop-opacity="0.212"/><stop offset="0.841" stop-color="#fff" stop-opacity="0.108"/><stop offset="0.960" stop-color="#fff" stop-opacity="0.090"/><stop offset="1.000" stop-color="#fff" stop-opacity="0.000"/></linearGradient><linearGradient id="g117" x1="0" y1="0" x2="0" y2="1"><stop offset="0.000" stop-color="#fff" stop-opacity="0.000"/><stop offset="0.250" stop-color="#fff" stop-opacity="0.085"/><stop offset="0.500" stop-color="#fff" stop-opacity="0.142"/><stop offset="0.750" stop-color="#fff" stop-opacity="0.071"/><stop offset="1.000" stop-color="#fff" stop-opacity="0.000"/></linearGradient><linearGradient id="g118" x1="0" y1="0" x2="0" y2="1"><stop offset="0.000" stop-color="#fff" stop-opacity="0.000"/><stop offset="0.250" stop-color="#fff" stop-opacity="0.210"/><stop offset="0.500" stop-color="#fff" stop-opacity="0.350"/><stop offset="0.750" stop-color="#fff" stop-opacity="0.175"/><stop offset="1.000" stop-color="#fff" stop-opacity="0.000"/></linearGradient><linearGradient id="g119" x1="0" y1="0" x2="0" y2="1"><stop offset="0.000" stop-color="#fff" stop-opacity="0.000"/><stop offset="0.250" stop-color="#fff" stop-opacity="0.075"/><stop offset="0.500" stop-color="#fff" stop-opacity="0.125"/><stop offset="0.750" stop-color="#fff" stop-opacity="0.062"/><stop offset="1.000" stop-color="#fff" stop-opacity="0.000"/></linearGradient><linearGradient id="g120" x1="0" y1="0" x2="0" y2="1"><stop offset="0.000" stop-color="#fff" stop-opacity="0.000"/><stop offset="0.250" stop-color="#fff" stop-opacity="0.200"/><stop offset="0.500" stop-color="#fff" stop-opacity="0.333"/><stop offset="0.750" stop-color="#fff" stop-opacity="0.167"/><stop offset="1.000" stop-color="#fff" stop-opacity="0.000"/></linearGradient><linearGradient id="g121" x1="0" y1="0" x2="0" y2="1"><stop offset="0.000" stop-color="#fff" stop-opacity="0.000"/><stop offset="0.250" stop-color="#fff" stop-opacity="0.242"/><stop offset="0.500" stop-color="#fff" stop-opacity="0.403"/><stop offset="0.750" stop-color="#fff" stop-opacity="0.201"/><stop offset="1.000" stop-color="#fff" stop-opacity="0.000"/></linearGradient><linearGradient id="g122" x1="0" y1="0" x2="0" y2="1"><stop offset="0.000" stop-color="#fff" stop-opacity="0.000"/><stop offset="0.250" stop-color="#fff" stop-opacity="0.200"/><stop offset="0.500" stop-color="#fff" stop-opacity="0.333"/><stop offset="0.750" stop-color="#fff" stop-opacity="0.167"/><stop offset="1.000" stop-color="#fff" stop-opacity="0.000"/></linearGradient><linearGradient id="g123" x1="0" y1="0" x2="0" y2="1"><stop offset="0.000" stop-color="#fff" stop-opacity="0.000"/><stop offset="0.166" stop-color="#fff" stop-opacity="0.283"/><stop offset="0.332" stop-color="#fff" stop-opacity="0.472"/><stop offset="0.666" stop-color="#fff" stop-opacity="0.236"/><stop offset="1.000" stop-color="#fff" stop-opacity="0.000"/></linearGradient><linearGradient id="g124" x1="0" y1="0" x2="0" y2="1"><stop offset="0.000" stop-color="#fff" stop-opacity="0.000"/><stop offset="0.250" stop-color="#fff" stop-opacity="0.179"/><stop offset="0.500" stop-color="#fff" stop-opacity="0.298"/><stop offset="0.750" stop-color="#fff" stop-opacity="0.149"/><stop offset="1.000" stop-color="#fff" stop-opacity="0.000"/></linearGradient><linearGradient id="g125" x1="0" y1="0" x2="0" y2="1"><stop offset="0.000" stop-color="#fff" stop-opacity="0.000"/><stop offset="0.250" stop-color="#fff" stop-opacity="0.085"/><stop offset="0.500" stop-color="#fff" stop-opacity="0.142"/><stop offset="0.750" stop-color="#fff" stop-opacity="0.071"/><stop offset="1.000" stop-color="#fff" stop-opacity="0.000"/></linearGradient><linearGradient id="g126" x1="0" y1="0" x2="0" y2="1"><stop offset="0.000" stop-color="#fff" stop-opacity="0.000"/><stop offset="0.250" stop-color="#fff" stop-opacity="0.117"/><stop offset="0.500" stop-color="#fff" stop-opacity="0.194"/><stop offset="0.750" stop-color="#fff" stop-opacity="0.097"/><stop offset="1.000" stop-color="#fff" stop-opacity="0.000"/></linearGradient><linearGradient id="g127" x1="0" y1="0" x2="0" y2="1"><stop offset="0.000" stop-color="#000" stop-opacity="0.487"/><stop offset="0.383" stop-color="#000" stop-opacity="0.470"/><stop offset="0.504" stop-color="#000" stop-opacity="0.253"/><stop offset="0.661" stop-color="#000" stop-opacity="0.127"/><stop offset="0.835" stop-color="#000" stop-opacity="0.039"/><stop offset="1.000" stop-color="#fff" stop-opacity="0.000"/></linearGradient><linearGradient id="g128" x1="0" y1="0" x2="0" y2="1"><stop offset="0.000" stop-color="#fff" stop-opacity="0.000"/><stop offset="0.120" stop-color="#fff" stop-opacity="0.446"/><stop offset="0.260" stop-color="#fff" stop-opacity="0.494"/><stop offset="0.340" stop-color="#fff" stop-opacity="0.831"/><stop offset="1.000" stop-color="#fff" stop-opacity="0.831"/></linearGradient><filter id="f6" filterUnits="userSpaceOnUse" x="-2" y="-2" width="152.4" height="115.1" color-interpolation-filters="sRGB"><feTurbulence type="fractalNoise" baseFrequency="0.4 0.4" numOctaves="3" seed="45" result="n"/><feColorMatrix in="n" type="matrix" values="1 0 0 0 0 1 0 0 0 0 1 0 0 0 0 0 0 0 0 1" result="ng"/><feGaussianBlur in="SourceGraphic" stdDeviation="0.35" result="sg"/><feComposite in="sg" in2="ng" operator="arithmetic" k1="0" k2="1" k3="0.23" k4="-0.115" result="sum"/><feComponentTransfer in="sum"><feFuncR type="table" tableValues="0.267 0.277 0.282 0.283 0.279 0.271 0.259 0.245 0.230 0.214 0.199 0.186 0.173 0.161 0.149 0.138 0.128 0.121 0.121 0.132 0.158 0.197 0.246 0.304 0.369 0.440 0.516 0.596 0.678 0.762 0.846 0.926 0.993"/><feFuncG type="table" tableValues="0.005 0.050 0.095 0.136 0.175 0.214 0.252 0.288 0.322 0.356 0.388 0.419 0.449 0.479 0.508 0.537 0.567 0.596 0.626 0.655 0.684 0.712 0.739 0.765 0.789 0.811 0.831 0.849 0.864 0.876 0.887 0.897 0.906"/><feFuncB type="table" tableValues="0.329 0.376 0.417 0.453 0.483 0.507 0.525 0.537 0.546 0.551 0.555 0.557 0.558 0.558 0.557 0.555 0.551 0.544 0.533 0.520 0.502 0.479 0.452 0.420 0.383 0.341 0.294 0.243 0.190 0.137 0.100 0.104 0.144"/><feFuncA type="linear" slope="0" intercept="1"/></feComponentTransfer></filter><clipPath id="c6"><rect x="0" y="0" width="148.4" height="111.1"/></clipPath><linearGradient id="g129" x1="0" y1="0" x2="0" y2="1"><stop offset="0.000" stop-color="#fff" stop-opacity="0.049"/><stop offset="0.282" stop-color="#fff" stop-opacity="0.044"/><stop offset="0.453" stop-color="#fff" stop-opacity="0.020"/><stop offset="0.504" stop-color="#fff" stop-opacity="0.000"/><stop offset="0.555" stop-color="#fff" stop-opacity="0.000"/><stop offset="0.589" stop-color="#000" stop-opacity="0.034"/><stop offset="0.828" stop-color="#000" stop-opacity="0.051"/><stop offset="0.854" stop-color="#000" stop-opacity="0.068"/><stop offset="1.000" stop-color="#000" stop-opacity="0.068"/></linearGradient><linearGradient id="g130" x1="0" y1="0" x2="0" y2="1"><stop offset="0.000" stop-color="#fff" stop-opacity="0.000"/><stop offset="0.300" stop-color="#fff" stop-opacity="0.098"/><stop offset="0.700" stop-color="#fff" stop-opacity="0.098"/><stop offset="1.000" stop-color="#fff" stop-opacity="0.000"/></linearGradient><linearGradient id="g131" x1="0" y1="0" x2="0" y2="1"><stop offset="0.000" stop-color="#fff" stop-opacity="0.000"/><stop offset="0.300" stop-color="#fff" stop-opacity="0.244"/><stop offset="0.700" stop-color="#fff" stop-opacity="0.244"/><stop offset="1.000" stop-color="#fff" stop-opacity="0.000"/></linearGradient><linearGradient id="g132" x1="0" y1="0" x2="0" y2="1"><stop offset="0.000" stop-color="#fff" stop-opacity="0.000"/><stop offset="0.300" stop-color="#fff" stop-opacity="0.049"/><stop offset="0.700" stop-color="#fff" stop-opacity="0.049"/><stop offset="1.000" stop-color="#fff" stop-opacity="0.000"/></linearGradient><linearGradient id="g133" x1="0" y1="0" x2="0" y2="1"><stop offset="0.000" stop-color="#fff" stop-opacity="0.000"/><stop offset="0.300" stop-color="#fff" stop-opacity="0.049"/><stop offset="0.700" stop-color="#fff" stop-opacity="0.049"/><stop offset="1.000" stop-color="#fff" stop-opacity="0.000"/></linearGradient><linearGradient id="g134" x1="0" y1="0" x2="0" y2="1"><stop offset="0.000" stop-color="#fff" stop-opacity="0.000"/><stop offset="0.300" stop-color="#fff" stop-opacity="0.049"/><stop offset="0.700" stop-color="#fff" stop-opacity="0.049"/><stop offset="1.000" stop-color="#fff" stop-opacity="0.000"/></linearGradient><linearGradient id="g135" x1="0" y1="0" x2="0" y2="1"><stop offset="0.000" stop-color="#fff" stop-opacity="0.000"/><stop offset="0.300" stop-color="#fff" stop-opacity="0.098"/><stop offset="0.700" stop-color="#fff" stop-opacity="0.098"/><stop offset="1.000" stop-color="#fff" stop-opacity="0.000"/></linearGradient><linearGradient id="g136" x1="0" y1="0" x2="0" y2="1"><stop offset="0.000" stop-color="#fff" stop-opacity="0.000"/><stop offset="0.300" stop-color="#fff" stop-opacity="0.073"/><stop offset="0.700" stop-color="#fff" stop-opacity="0.073"/><stop offset="1.000" stop-color="#fff" stop-opacity="0.000"/></linearGradient><linearGradient id="g137" x1="0" y1="0" x2="0" y2="1"><stop offset="0.000" stop-color="#fff" stop-opacity="0.265"/><stop offset="0.216" stop-color="#fff" stop-opacity="0.286"/><stop offset="0.510" stop-color="#fff" stop-opacity="0.306"/><stop offset="0.571" stop-color="#fff" stop-opacity="0.447"/><stop offset="0.657" stop-color="#fff" stop-opacity="0.628"/><stop offset="0.743" stop-color="#fff" stop-opacity="0.487"/><stop offset="0.890" stop-color="#fff" stop-opacity="0.346"/><stop offset="0.902" stop-color="#fff" stop-opacity="0.145"/><stop offset="0.975" stop-color="#fff" stop-opacity="0.084"/><stop offset="1.000" stop-color="#fff" stop-opacity="0.000"/></linearGradient><linearGradient id="g138" x1="0" y1="0" x2="0" y2="1"><stop offset="0.000" stop-color="#fff" stop-opacity="0.169"/><stop offset="0.497" stop-color="#fff" stop-opacity="0.169"/><stop offset="0.630" stop-color="#fff" stop-opacity="0.252"/><stop offset="0.709" stop-color="#fff" stop-opacity="0.418"/><stop offset="0.788" stop-color="#fff" stop-opacity="0.269"/><stop offset="0.960" stop-color="#fff" stop-opacity="0.153"/><stop offset="1.000" stop-color="#fff" stop-opacity="0.000"/></linearGradient><linearGradient id="g139" x1="0" y1="0" x2="0" y2="1"><stop offset="0.000" stop-color="#fff" stop-opacity="0.202"/><stop offset="0.504" stop-color="#fff" stop-opacity="0.202"/><stop offset="0.638" stop-color="#fff" stop-opacity="0.285"/><stop offset="0.718" stop-color="#fff" stop-opacity="0.451"/><stop offset="0.799" stop-color="#fff" stop-opacity="0.302"/><stop offset="0.960" stop-color="#fff" stop-opacity="0.186"/><stop offset="1.000" stop-color="#fff" stop-opacity="0.000"/></linearGradient><linearGradient id="g140" x1="0" y1="0" x2="0" y2="1"><stop offset="0.000" stop-color="#fff" stop-opacity="0.086"/><stop offset="0.497" stop-color="#fff" stop-opacity="0.086"/><stop offset="0.537" stop-color="#fff" stop-opacity="0.236"/><stop offset="0.630" stop-color="#fff" stop-opacity="0.335"/><stop offset="0.696" stop-color="#fff" stop-opacity="0.468"/><stop offset="0.762" stop-color="#fff" stop-opacity="0.335"/><stop offset="0.815" stop-color="#fff" stop-opacity="0.202"/><stop offset="0.841" stop-color="#fff" stop-opacity="0.103"/><stop offset="0.960" stop-color="#fff" stop-opacity="0.086"/><stop offset="1.000" stop-color="#fff" stop-opacity="0.000"/></linearGradient><linearGradient id="g141" x1="0" y1="0" x2="0" y2="1"><stop offset="0.000" stop-color="#fff" stop-opacity="0.000"/><stop offset="0.250" stop-color="#fff" stop-opacity="0.082"/><stop offset="0.500" stop-color="#fff" stop-opacity="0.136"/><stop offset="0.750" stop-color="#fff" stop-opacity="0.068"/><stop offset="1.000" stop-color="#fff" stop-opacity="0.000"/></linearGradient><linearGradient id="g142" x1="0" y1="0" x2="0" y2="1"><stop offset="0.000" stop-color="#fff" stop-opacity="0.000"/><stop offset="0.250" stop-color="#fff" stop-opacity="0.201"/><stop offset="0.500" stop-color="#fff" stop-opacity="0.335"/><stop offset="0.750" stop-color="#fff" stop-opacity="0.168"/><stop offset="1.000" stop-color="#fff" stop-opacity="0.000"/></linearGradient><linearGradient id="g143" x1="0" y1="0" x2="0" y2="1"><stop offset="0.000" stop-color="#fff" stop-opacity="0.000"/><stop offset="0.250" stop-color="#fff" stop-opacity="0.072"/><stop offset="0.500" stop-color="#fff" stop-opacity="0.119"/><stop offset="0.750" stop-color="#fff" stop-opacity="0.060"/><stop offset="1.000" stop-color="#fff" stop-opacity="0.000"/></linearGradient><linearGradient id="g144" x1="0" y1="0" x2="0" y2="1"><stop offset="0.000" stop-color="#fff" stop-opacity="0.000"/><stop offset="0.250" stop-color="#fff" stop-opacity="0.191"/><stop offset="0.500" stop-color="#fff" stop-opacity="0.318"/><stop offset="0.750" stop-color="#fff" stop-opacity="0.159"/><stop offset="1.000" stop-color="#fff" stop-opacity="0.000"/></linearGradient><linearGradient id="g145" x1="0" y1="0" x2="0" y2="1"><stop offset="0.000" stop-color="#fff" stop-opacity="0.000"/><stop offset="0.250" stop-color="#fff" stop-opacity="0.231"/><stop offset="0.500" stop-color="#fff" stop-opacity="0.385"/><stop offset="0.750" stop-color="#fff" stop-opacity="0.192"/><stop offset="1.000" stop-color="#fff" stop-opacity="0.000"/></linearGradient><linearGradient id="g146" x1="0" y1="0" x2="0" y2="1"><stop offset="0.000" stop-color="#fff" stop-opacity="0.000"/><stop offset="0.250" stop-color="#fff" stop-opacity="0.191"/><stop offset="0.500" stop-color="#fff" stop-opacity="0.318"/><stop offset="0.750" stop-color="#fff" stop-opacity="0.159"/><stop offset="1.000" stop-color="#fff" stop-opacity="0.000"/></linearGradient><linearGradient id="g147" x1="0" y1="0" x2="0" y2="1"><stop offset="0.000" stop-color="#fff" stop-opacity="0.000"/><stop offset="0.166" stop-color="#fff" stop-opacity="0.271"/><stop offset="0.332" stop-color="#fff" stop-opacity="0.451"/><stop offset="0.666" stop-color="#fff" stop-opacity="0.226"/><stop offset="1.000" stop-color="#fff" stop-opacity="0.000"/></linearGradient><linearGradient id="g148" x1="0" y1="0" x2="0" y2="1"><stop offset="0.000" stop-color="#fff" stop-opacity="0.000"/><stop offset="0.250" stop-color="#fff" stop-opacity="0.171"/><stop offset="0.500" stop-color="#fff" stop-opacity="0.285"/><stop offset="0.750" stop-color="#fff" stop-opacity="0.143"/><stop offset="1.000" stop-color="#fff" stop-opacity="0.000"/></linearGradient><linearGradient id="g149" x1="0" y1="0" x2="0" y2="1"><stop offset="0.000" stop-color="#fff" stop-opacity="0.000"/><stop offset="0.250" stop-color="#fff" stop-opacity="0.082"/><stop offset="0.500" stop-color="#fff" stop-opacity="0.136"/><stop offset="0.750" stop-color="#fff" stop-opacity="0.068"/><stop offset="1.000" stop-color="#fff" stop-opacity="0.000"/></linearGradient><linearGradient id="g150" x1="0" y1="0" x2="0" y2="1"><stop offset="0.000" stop-color="#fff" stop-opacity="0.000"/><stop offset="0.250" stop-color="#fff" stop-opacity="0.111"/><stop offset="0.500" stop-color="#fff" stop-opacity="0.186"/><stop offset="0.750" stop-color="#fff" stop-opacity="0.093"/><stop offset="1.000" stop-color="#fff" stop-opacity="0.000"/></linearGradient><linearGradient id="g151" x1="0" y1="0" x2="0" y2="1"><stop offset="0.000" stop-color="#000" stop-opacity="0.475"/><stop offset="0.383" stop-color="#000" stop-opacity="0.458"/><stop offset="0.504" stop-color="#000" stop-opacity="0.247"/><stop offset="0.661" stop-color="#000" stop-opacity="0.123"/><stop offset="0.835" stop-color="#000" stop-opacity="0.038"/><stop offset="1.000" stop-color="#fff" stop-opacity="0.000"/></linearGradient><linearGradient id="g152" x1="0" y1="0" x2="0" y2="1"><stop offset="0.000" stop-color="#fff" stop-opacity="0.000"/><stop offset="0.120" stop-color="#fff" stop-opacity="0.439"/><stop offset="0.260" stop-color="#fff" stop-opacity="0.488"/><stop offset="0.340" stop-color="#fff" stop-opacity="0.829"/><stop offset="1.000" stop-color="#fff" stop-opacity="0.829"/></linearGradient></defs>
<rect width="550" height="494" fill="#fff"/>
<g transform="translate(28.2,9.3)"><g clip-path="url(#c0)"><g filter="url(#f0)"><rect x="-3" y="-3" width="154.4" height="117.1" fill="#979797"/><rect x="-3.00" y="-3.00" width="154.40" height="117.10" fill="url(#g1)"/><rect x="48.80" y="2.40" width="2.00" height="81.60" fill="url(#g2)"/><rect x="70.90" y="2.40" width="1.60" height="75.60" fill="url(#g3)"/><rect x="82.60" y="2.40" width="1.40" height="74.60" fill="url(#g4)"/><rect x="16.35" y="2.40" width="1.50" height="75.60" fill="url(#g5)"/><rect x="7.80" y="51.00" width="1.80" height="8.00" fill="url(#g6)"/><rect x="65.50" y="48.70" width="1.80" height="13.00" fill="url(#g7)"/><rect x="91.50" y="51.00" width="1.60" height="8.00" fill="url(#g8)"/><rect x="99.85" y="52.50" width="1.70" height="10.50" fill="url(#g9)"/><rect x="108.45" y="45.70" width="1.70" height="17.30" fill="url(#g10)"/><rect x="119.90" y="50.00" width="1.80" height="10.50" fill="url(#g11)"/><rect x="126.45" y="45.70" width="1.70" height="29.50" fill="url(#g12)"/><rect x="128.90" y="49.00" width="1.40" height="12.00" fill="url(#g13)"/><rect x="132.70" y="51.00" width="1.60" height="8.00" fill="url(#g14)"/><rect x="144.00" y="51.00" width="2.20" height="8.00" fill="url(#g15)"/><rect x="-3.00" y="-3.00" width="154.40" height="11.50" fill="url(#g16)"/><rect x="-3.00" y="109.10" width="154.40" height="5.00" fill="url(#g17)"/></g></g><rect x="0" y="0" width="148.4" height="111.1" fill="none" stroke="#000" stroke-opacity="0.5" stroke-width="0.3"/><path d="M-0.2 111.05H148.60" fill="none" stroke="#402000" stroke-opacity="0.5" stroke-width="0.6"/><path d="M0 111.10h-1.1M0 97.21h-1.1M0 83.32h-1.1M0 69.44h-1.1M0 55.55h-1.1M0 41.66h-1.1M0 27.78h-1.1M0 13.89h-1.1M0 0.00h-1.1M25.00 111.1v1.1M49.80 111.1v1.1M74.60 111.1v1.1M99.40 111.1v1.1M124.20 111.1v1.1" stroke="#000" stroke-width="0.32" fill="none"/><text class="tk" x="-2.95" y="112.75" text-anchor="end">0</text><text class="tk" x="-2.95" y="98.86" text-anchor="end">2,000</text><text class="tk" x="-2.95" y="84.97" text-anchor="end">4,000</text><text class="tk" x="-2.95" y="71.09" text-anchor="end">6,000</text><text class="tk" x="-2.95" y="57.20" text-anchor="end">8,000</text><text class="tk" x="-2.95" y="43.31" text-anchor="end">10,000</text><text class="tk" x="-2.95" y="29.43" text-anchor="end">12,000</text><text class="tk" x="-2.95" y="15.54" text-anchor="end">14,000</text><text class="tk" x="-2.95" y="1.65" text-anchor="end">16,000</text><text class="tk" x="25.00" y="117.00" text-anchor="middle">0.5</text><text class="tk" x="49.80" y="117.00" text-anchor="middle">1.0</text><text class="tk" x="74.60" y="117.00" text-anchor="middle">1.5</text><text class="tk" x="99.40" y="117.00" text-anchor="middle">2.0</text><text class="tk" x="124.20" y="117.00" text-anchor="middle">2.5</text><text class="lb" x="74.20" y="124.80" text-anchor="middle">Time (s)</text><text class="lb ly" transform="translate(-20.2,55.55) rotate(-90)" text-anchor="middle">Frequency (Hz)</text><text class="cp" x="44.20" y="146.80" textLength="34.6" lengthAdjust="spacing">(<tspan font-weight="bold">a</tspan>) clean</text></g><g transform="translate(213.1,9.3)"><g clip-path="url(#c1)"><g filter="url(#f1)"><rect x="-3" y="-3" width="154.4" height="117.1" fill="#a6a6a6"/><rect x="0.00" y="2.50" width="148.40" height="51.50" fill="url(#g18)"/><rect x="0.00" y="94.00" width="148.40" height="15.00" fill="url(#g19)"/><rect x="0" y="52.30" width="148.4" height="13.00" fill="url(#g20)"/><rect x="0" y="55.30" width="148.4" height="7.00" fill="url(#g21)"/><rect x="0" y="57.50" width="148.4" height="2.60" fill="url(#g22)"/><rect x="0" y="41.80" width="148.4" height="3.00" fill="url(#g23)"/><rect x="0" y="65.55" width="148.4" height="2.50" fill="url(#g24)"/><rect x="0" y="72.05" width="148.4" height="2.50" fill="url(#g25)"/><rect x="0" y="79.80" width="148.4" height="5.00" fill="url(#g26)"/><rect x="0" y="91.50" width="148.4" height="2.20" fill="url(#g27)"/><rect x="0" y="49.00" width="148.4" height="3.00" fill="url(#g28)"/><rect x="0" y="86.00" width="148.4" height="3.00" fill="url(#g29)"/><rect x="0" y="95.00" width="148.4" height="4.00" fill="url(#g30)"/><ellipse cx="33.00" cy="92.60" rx="15.00" ry="1.40" fill="url(#rw)" fill-opacity="0.230"/><ellipse cx="79.00" cy="92.60" rx="13.00" ry="1.40" fill="url(#rw)" fill-opacity="0.230"/><ellipse cx="111.50" cy="92.60" rx="4.50" ry="1.40" fill="url(#rw)" fill-opacity="0.230"/><ellipse cx="129.00" cy="92.60" rx="6.00" ry="1.40" fill="url(#rw)" fill-opacity="0.230"/><ellipse cx="7.00" cy="58.70" rx="10.00" ry="2.40" fill="url(#rw)" fill-opacity="0.216"/><ellipse cx="33.50" cy="58.70" rx="9.50" ry="2.40" fill="url(#rw)" fill-opacity="0.216"/><ellipse cx="59.00" cy="58.70" rx="14.00" ry="2.40" fill="url(#rw)" fill-opacity="0.216"/><ellipse cx="92.00" cy="58.70" rx="11.00" ry="2.40" fill="url(#rw)" fill-opacity="0.216"/><ellipse cx="111.00" cy="58.70" rx="8.00" ry="2.40" fill="url(#rw)" fill-opacity="0.216"/><ellipse cx="139.00" cy="58.70" rx="12.00" ry="2.40" fill="url(#rw)" fill-opacity="0.216"/><ellipse cx="6.00" cy="8.90" rx="3.60" ry="4.20" fill="url(#rw)" fill-opacity="0.287"/><ellipse cx="6.00" cy="16.00" rx="3.00" ry="10.00" fill="url(#rw)" fill-opacity="0.086"/><ellipse cx="36.00" cy="8.90" rx="3.60" ry="4.20" fill="url(#rw)" fill-opacity="0.287"/><ellipse cx="36.00" cy="16.00" rx="3.00" ry="10.00" fill="url(#rw)" fill-opacity="0.086"/><ellipse cx="50.00" cy="8.90" rx="3.60" ry="4.20" fill="url(#rw)" fill-opacity="0.287"/><ellipse cx="50.00" cy="16.00" rx="3.00" ry="10.00" fill="url(#rw)" fill-opacity="0.086"/><ellipse cx="77.00" cy="8.90" rx="3.60" ry="4.20" fill="url(#rw)" fill-opacity="0.287"/><ellipse cx="77.00" cy="16.00" rx="3.00" ry="10.00" fill="url(#rw)" fill-opacity="0.086"/><ellipse cx="95.00" cy="8.90" rx="3.60" ry="4.20" fill="url(#rw)" fill-opacity="0.287"/><ellipse cx="95.00" cy="16.00" rx="3.00" ry="10.00" fill="url(#rw)" fill-opacity="0.086"/><ellipse cx="119.00" cy="8.90" rx="3.60" ry="4.20" fill="url(#rw)" fill-opacity="0.287"/><ellipse cx="119.00" cy="16.00" rx="3.00" ry="10.00" fill="url(#rw)" fill-opacity="0.086"/><ellipse cx="137.00" cy="8.90" rx="3.60" ry="4.20" fill="url(#rw)" fill-opacity="0.287"/><ellipse cx="137.00" cy="16.00" rx="3.00" ry="10.00" fill="url(#rw)" fill-opacity="0.086"/><rect x="-3.00" y="-3.00" width="154.40" height="11.50" fill="url(#g31)"/><rect x="-3.00" y="110.00" width="154.40" height="4.10" fill="url(#g32)"/></g></g><rect x="0" y="0" width="148.4" height="111.1" fill="none" stroke="#000" stroke-opacity="0.5" stroke-width="0.3"/><path d="M-0.2 111.05H148.60" fill="none" stroke="#402000" stroke-opacity="0.5" stroke-width="0.6"/><path d="M0 111.10h-1.1M0 97.21h-1.1M0 83.32h-1.1M0 69.44h-1.1M0 55.55h-1.1M0 41.66h-1.1M0 27.78h-1.1M0 13.89h-1.1M0 0.00h-1.1M25.00 111.1v1.1M49.80 111.1v1.1M74.60 111.1v1.1M99.40 111.1v1.1M124.20 111.1v1.1" stroke="#000" stroke-width="0.32" fill="none"/><text class="tk" x="-2.95" y="112.75" text-anchor="end">0</text><text class="tk" x="-2.95" y="98.86" text-anchor="end">2,000</text><text class="tk" x="-2.95" y="84.97" text-anchor="end">4,000</text><text class="tk" x="-2.95" y="71.09" text-anchor="end">6,000</text><text class="tk" x="-2.95" y="57.20" text-anchor="end">8,000</text><text class="tk" x="-2.95" y="43.31" text-anchor="end">10,000</text><text class="tk" x="-2.95" y="29.43" text-anchor="end">12,000</text><text class="tk" x="-2.95" y="15.54" text-anchor="end">14,000</text><text class="tk" x="-2.95" y="1.65" text-anchor="end">16,000</text><text class="tk" x="25.00" y="117.00" text-anchor="middle">0.5</text><text class="tk" x="49.80" y="117.00" text-anchor="middle">1.0</text><text class="tk" x="74.60" y="117.00" text-anchor="middle">1.5</text><text class="tk" x="99.40" y="117.00" text-anchor="middle">2.0</text><text class="tk" x="124.20" y="117.00" text-anchor="middle">2.5</text><text class="lb" x="74.20" y="124.80" text-anchor="middle">Time (s)</text><text class="lb ly" transform="translate(-20.2,55.55) rotate(-90)" text-anchor="middle">Frequency (Hz)</text><text class="cp" x="43.60" y="146.80" textLength="35.8" lengthAdjust="spacing">(<tspan font-weight="bold">b</tspan>) noise</text></g><g transform="translate(397.8,9.3)"><g clip-path="url(#c2)"><g filter="url(#f2)"><rect x="-3" y="-3" width="154.4" height="117.1" fill="#969696"/><rect x="-3.00" y="-3.00" width="154.40" height="117.10" fill="url(#g33)"/><rect x="0" y="53.60" width="148.4" height="10.00" fill="url(#g34)"/><rect x="0" y="56.30" width="148.4" height="4.60" fill="url(#g35)"/><rect x="0" y="41.80" width="148.4" height="3.00" fill="url(#g36)"/><rect x="0" y="65.55" width="148.4" height="2.50" fill="url(#g37)"/><rect x="0" y="72.05" width="148.4" height="2.50" fill="url(#g38)"/><rect x="0" y="79.80" width="148.4" height="5.00" fill="url(#g39)"/><rect x="0" y="91.50" width="148.4" height="2.20" fill="url(#g40)"/><ellipse cx="33.00" cy="92.60" rx="15.00" ry="1.40" fill="url(#rw)" fill-opacity="0.066"/><ellipse cx="79.00" cy="92.60" rx="13.00" ry="1.40" fill="url(#rw)" fill-opacity="0.066"/><ellipse cx="111.50" cy="92.60" rx="4.50" ry="1.40" fill="url(#rw)" fill-opacity="0.066"/><ellipse cx="129.00" cy="92.60" rx="6.00" ry="1.40" fill="url(#rw)" fill-opacity="0.066"/><ellipse cx="7.00" cy="58.70" rx="10.00" ry="2.00" fill="url(#rw)" fill-opacity="0.087"/><ellipse cx="33.50" cy="58.70" rx="9.50" ry="2.00" fill="url(#rw)" fill-opacity="0.087"/><ellipse cx="59.00" cy="58.70" rx="14.00" ry="2.00" fill="url(#rw)" fill-opacity="0.087"/><ellipse cx="92.00" cy="58.70" rx="11.00" ry="2.00" fill="url(#rw)" fill-opacity="0.087"/><ellipse cx="111.00" cy="58.70" rx="8.00" ry="2.00" fill="url(#rw)" fill-opacity="0.087"/><ellipse cx="139.00" cy="58.70" rx="12.00" ry="2.00" fill="url(#rw)" fill-opacity="0.087"/><ellipse cx="6.00" cy="8.90" rx="3.60" ry="4.20" fill="url(#rw)" fill-opacity="0.131"/><ellipse cx="6.00" cy="16.00" rx="3.00" ry="10.00" fill="url(#rw)" fill-opacity="0.038"/><ellipse cx="36.00" cy="8.90" rx="3.60" ry="4.20" fill="url(#rw)" fill-opacity="0.131"/><ellipse cx="36.00" cy="16.00" rx="3.00" ry="10.00" fill="url(#rw)" fill-opacity="0.038"/><ellipse cx="50.00" cy="8.90" rx="3.60" ry="4.20" fill="url(#rw)" fill-opacity="0.131"/><ellipse cx="50.00" cy="16.00" rx="3.00" ry="10.00" fill="url(#rw)" fill-opacity="0.038"/><ellipse cx="77.00" cy="8.90" rx="3.60" ry="4.20" fill="url(#rw)" fill-opacity="0.131"/><ellipse cx="77.00" cy="16.00" rx="3.00" ry="10.00" fill="url(#rw)" fill-opacity="0.038"/><ellipse cx="95.00" cy="8.90" rx="3.60" ry="4.20" fill="url(#rw)" fill-opacity="0.131"/><ellipse cx="95.00" cy="16.00" rx="3.00" ry="10.00" fill="url(#rw)" fill-opacity="0.038"/><ellipse cx="119.00" cy="8.90" rx="3.60" ry="4.20" fill="url(#rw)" fill-opacity="0.131"/><ellipse cx="119.00" cy="16.00" rx="3.00" ry="10.00" fill="url(#rw)" fill-opacity="0.038"/><ellipse cx="137.00" cy="8.90" rx="3.60" ry="4.20" fill="url(#rw)" fill-opacity="0.131"/><ellipse cx="137.00" cy="16.00" rx="3.00" ry="10.00" fill="url(#rw)" fill-opacity="0.038"/><rect x="49.08" y="2.40" width="1.44" height="81.60" fill="url(#g41)"/><rect x="71.12" y="2.40" width="1.15" height="75.60" fill="url(#g42)"/><rect x="82.80" y="2.40" width="1.01" height="74.60" fill="url(#g43)"/><rect x="16.56" y="2.40" width="1.08" height="75.60" fill="url(#g44)"/><rect x="8.05" y="51.00" width="1.30" height="8.00" fill="url(#g45)"/><rect x="65.75" y="48.70" width="1.30" height="13.00" fill="url(#g46)"/><rect x="91.72" y="51.00" width="1.15" height="8.00" fill="url(#g47)"/><rect x="100.09" y="52.50" width="1.22" height="10.50" fill="url(#g48)"/><rect x="108.69" y="45.70" width="1.22" height="17.30" fill="url(#g49)"/><rect x="120.15" y="50.00" width="1.30" height="10.50" fill="url(#g50)"/><rect x="126.69" y="45.70" width="1.22" height="29.50" fill="url(#g51)"/><rect x="129.10" y="49.00" width="1.01" height="12.00" fill="url(#g52)"/><rect x="132.92" y="51.00" width="1.15" height="8.00" fill="url(#g53)"/><rect x="144.31" y="51.00" width="1.58" height="8.00" fill="url(#g54)"/><rect x="-3.00" y="-3.00" width="154.40" height="11.50" fill="url(#g55)"/><rect x="-3.00" y="109.10" width="154.40" height="5.00" fill="url(#g56)"/></g></g><rect x="0" y="0" width="148.4" height="111.1" fill="none" stroke="#000" stroke-opacity="0.5" stroke-width="0.3"/><path d="M-0.2 111.05H148.60" fill="none" stroke="#402000" stroke-opacity="0.5" stroke-width="0.6"/><path d="M0 111.10h-1.1M0 97.21h-1.1M0 83.32h-1.1M0 69.44h-1.1M0 55.55h-1.1M0 41.66h-1.1M0 27.78h-1.1M0 13.89h-1.1M0 0.00h-1.1M25.00 111.1v1.1M49.80 111.1v1.1M74.60 111.1v1.1M99.40 111.1v1.1M124.20 111.1v1.1" stroke="#000" stroke-width="0.32" fill="none"/><text class="tk" x="-2.95" y="112.75" text-anchor="end">0</text><text class="tk" x="-2.95" y="98.86" text-anchor="end">2,000</text><text class="tk" x="-2.95" y="84.97" text-anchor="end">4,000</text><text class="tk" x="-2.95" y="71.09" text-anchor="end">6,000</text><text class="tk" x="-2.95" y="57.20" text-anchor="end">8,000</text><text class="tk" x="-2.95" y="43.31" text-anchor="end">10,000</text><text class="tk" x="-2.95" y="29.43" text-anchor="end">12,000</text><text class="tk" x="-2.95" y="15.54" text-anchor="end">14,000</text><text class="tk" x="-2.95" y="1.65" text-anchor="end">16,000</text><text class="tk" x="25.00" y="117.00" text-anchor="middle">0.5</text><text class="tk" x="49.80" y="117.00" text-anchor="middle">1.0</text><text class="tk" x="74.60" y="117.00" text-anchor="middle">1.5</text><text class="tk" x="99.40" y="117.00" text-anchor="middle">2.0</text><text class="tk" x="124.20" y="117.00" text-anchor="middle">2.5</text><text class="lb" x="74.20" y="124.80" text-anchor="middle">Time (s)</text><text class="lb ly" transform="translate(-20.2,55.55) rotate(-90)" text-anchor="middle">Frequency (Hz)</text><text class="cp" x="9.65" y="146.80" textLength="103.7" lengthAdjust="spacing">(<tspan font-weight="bold">c</tspan>) noisy segment at 0 dB</text></g><g transform="translate(28.2,175.3)"><g clip-path="url(#c3)"><g filter="url(#f3)"><rect x="-3" y="-3" width="154.4" height="117.1" fill="#9f9f9f"/><rect x="-3.00" y="-3.00" width="154.40" height="117.10" fill="url(#g57)"/><rect x="0" y="53.60" width="148.4" height="10.00" fill="url(#g58)"/><rect x="0" y="56.30" width="148.4" height="4.60" fill="url(#g59)"/><rect x="0" y="41.80" width="148.4" height="3.00" fill="url(#g60)"/><rect x="0" y="65.55" width="148.4" height="2.50" fill="url(#g61)"/><rect x="0" y="72.05" width="148.4" height="2.50" fill="url(#g62)"/><rect x="0" y="79.80" width="148.4" height="5.00" fill="url(#g63)"/><rect x="0" y="91.50" width="148.4" height="2.20" fill="url(#g64)"/><ellipse cx="33.00" cy="92.60" rx="15.00" ry="1.40" fill="url(#rw)" fill-opacity="0.092"/><ellipse cx="79.00" cy="92.60" rx="13.00" ry="1.40" fill="url(#rw)" fill-opacity="0.092"/><ellipse cx="111.50" cy="92.60" rx="4.50" ry="1.40" fill="url(#rw)" fill-opacity="0.092"/><ellipse cx="129.00" cy="92.60" rx="6.00" ry="1.40" fill="url(#rw)" fill-opacity="0.092"/><ellipse cx="7.00" cy="58.70" rx="10.00" ry="2.00" fill="url(#rw)" fill-opacity="0.123"/><ellipse cx="33.50" cy="58.70" rx="9.50" ry="2.00" fill="url(#rw)" fill-opacity="0.123"/><ellipse cx="59.00" cy="58.70" rx="14.00" ry="2.00" fill="url(#rw)" fill-opacity="0.123"/><ellipse cx="92.00" cy="58.70" rx="11.00" ry="2.00" fill="url(#rw)" fill-opacity="0.123"/><ellipse cx="111.00" cy="58.70" rx="8.00" ry="2.00" fill="url(#rw)" fill-opacity="0.123"/><ellipse cx="139.00" cy="58.70" rx="12.00" ry="2.00" fill="url(#rw)" fill-opacity="0.123"/><ellipse cx="6.00" cy="8.90" rx="3.60" ry="4.20" fill="url(#rw)" fill-opacity="0.184"/><ellipse cx="6.00" cy="16.00" rx="3.00" ry="10.00" fill="url(#rw)" fill-opacity="0.054"/><ellipse cx="36.00" cy="8.90" rx="3.60" ry="4.20" fill="url(#rw)" fill-opacity="0.184"/><ellipse cx="36.00" cy="16.00" rx="3.00" ry="10.00" fill="url(#rw)" fill-opacity="0.054"/><ellipse cx="50.00" cy="8.90" rx="3.60" ry="4.20" fill="url(#rw)" fill-opacity="0.184"/><ellipse cx="50.00" cy="16.00" rx="3.00" ry="10.00" fill="url(#rw)" fill-opacity="0.054"/><ellipse cx="77.00" cy="8.90" rx="3.60" ry="4.20" fill="url(#rw)" fill-opacity="0.184"/><ellipse cx="77.00" cy="16.00" rx="3.00" ry="10.00" fill="url(#rw)" fill-opacity="0.054"/><ellipse cx="95.00" cy="8.90" rx="3.60" ry="4.20" fill="url(#rw)" fill-opacity="0.184"/><ellipse cx="95.00" cy="16.00" rx="3.00" ry="10.00" fill="url(#rw)" fill-opacity="0.054"/><ellipse cx="119.00" cy="8.90" rx="3.60" ry="4.20" fill="url(#rw)" fill-opacity="0.184"/><ellipse cx="119.00" cy="16.00" rx="3.00" ry="10.00" fill="url(#rw)" fill-opacity="0.054"/><ellipse cx="137.00" cy="8.90" rx="3.60" ry="4.20" fill="url(#rw)" fill-opacity="0.184"/><ellipse cx="137.00" cy="16.00" rx="3.00" ry="10.00" fill="url(#rw)" fill-opacity="0.054"/><rect x="49.08" y="2.40" width="1.44" height="81.60" fill="url(#g65)"/><rect x="71.12" y="2.40" width="1.15" height="75.60" fill="url(#g66)"/><rect x="82.80" y="2.40" width="1.01" height="74.60" fill="url(#g67)"/><rect x="16.56" y="2.40" width="1.08" height="75.60" fill="url(#g68)"/><rect x="8.05" y="51.00" width="1.30" height="8.00" fill="url(#g69)"/><rect x="65.75" y="48.70" width="1.30" height="13.00" fill="url(#g70)"/><rect x="91.72" y="51.00" width="1.15" height="8.00" fill="url(#g71)"/><rect x="100.09" y="52.50" width="1.22" height="10.50" fill="url(#g72)"/><rect x="108.69" y="45.70" width="1.22" height="17.30" fill="url(#g73)"/><rect x="120.15" y="50.00" width="1.30" height="10.50" fill="url(#g74)"/><rect x="126.69" y="45.70" width="1.22" height="29.50" fill="url(#g75)"/><rect x="129.10" y="49.00" width="1.01" height="12.00" fill="url(#g76)"/><rect x="132.92" y="51.00" width="1.15" height="8.00" fill="url(#g77)"/><rect x="144.31" y="51.00" width="1.58" height="8.00" fill="url(#g78)"/><rect x="-3.00" y="-3.00" width="154.40" height="11.50" fill="url(#g79)"/><rect x="-3.00" y="109.10" width="154.40" height="5.00" fill="url(#g80)"/></g></g><rect x="0" y="0" width="148.4" height="111.1" fill="none" stroke="#000" stroke-opacity="0.5" stroke-width="0.3"/><path d="M-0.2 111.05H148.60" fill="none" stroke="#402000" stroke-opacity="0.5" stroke-width="0.6"/><path d="M0 111.10h-1.1M0 97.21h-1.1M0 83.32h-1.1M0 69.44h-1.1M0 55.55h-1.1M0 41.66h-1.1M0 27.78h-1.1M0 13.89h-1.1M0 0.00h-1.1M25.00 111.1v1.1M49.80 111.1v1.1M74.60 111.1v1.1M99.40 111.1v1.1M124.20 111.1v1.1" stroke="#000" stroke-width="0.32" fill="none"/><text class="tk" x="-2.95" y="112.75" text-anchor="end">0</text><text class="tk" x="-2.95" y="98.86" text-anchor="end">2,000</text><text class="tk" x="-2.95" y="84.97" text-anchor="end">4,000</text><text class="tk" x="-2.95" y="71.09" text-anchor="end">6,000</text><text class="tk" x="-2.95" y="57.20" text-anchor="end">8,000</text><text class="tk" x="-2.95" y="43.31" text-anchor="end">10,000</text><text class="tk" x="-2.95" y="29.43" text-anchor="end">12,000</text><text class="tk" x="-2.95" y="15.54" text-anchor="end">14,000</text><text class="tk" x="-2.95" y="1.65" text-anchor="end">16,000</text><text class="tk" x="25.00" y="117.00" text-anchor="middle">0.5</text><text class="tk" x="49.80" y="117.00" text-anchor="middle">1.0</text><text class="tk" x="74.60" y="117.00" text-anchor="middle">1.5</text><text class="tk" x="99.40" y="117.00" text-anchor="middle">2.0</text><text class="tk" x="124.20" y="117.00" text-anchor="middle">2.5</text><text class="lb" x="74.20" y="124.80" text-anchor="middle">Time (s)</text><text class="lb ly" transform="translate(-20.2,55.55) rotate(-90)" text-anchor="middle">Frequency (Hz)</text><text class="cp" x="1.25" y="146.80">(<tspan font-weight="bold">d</tspan>) noisy segment at</text><text class="cp" x="122.15" y="146.80" text-anchor="end">−2.5 dB</text></g><g transform="translate(213.1,175.3)"><g clip-path="url(#c4)"><g filter="url(#f4)"><rect x="-3" y="-3" width="154.4" height="117.1" fill="#9d9d9d"/><rect x="-3.00" y="-3.00" width="154.40" height="117.10" fill="url(#g81)"/><rect x="0" y="53.60" width="148.4" height="10.00" fill="url(#g82)"/><rect x="0" y="56.30" width="148.4" height="4.60" fill="url(#g83)"/><rect x="0" y="41.80" width="148.4" height="3.00" fill="url(#g84)"/><rect x="0" y="65.55" width="148.4" height="2.50" fill="url(#g85)"/><rect x="0" y="72.05" width="148.4" height="2.50" fill="url(#g86)"/><rect x="0" y="79.80" width="148.4" height="5.00" fill="url(#g87)"/><rect x="0" y="91.50" width="148.4" height="2.20" fill="url(#g88)"/><ellipse cx="33.00" cy="92.60" rx="15.00" ry="1.40" fill="url(#rw)" fill-opacity="0.109"/><ellipse cx="79.00" cy="92.60" rx="13.00" ry="1.40" fill="url(#rw)" fill-opacity="0.109"/><ellipse cx="111.50" cy="92.60" rx="4.50" ry="1.40" fill="url(#rw)" fill-opacity="0.109"/><ellipse cx="129.00" cy="92.60" rx="6.00" ry="1.40" fill="url(#rw)" fill-opacity="0.109"/><ellipse cx="7.00" cy="58.70" rx="10.00" ry="2.00" fill="url(#rw)" fill-opacity="0.145"/><ellipse cx="33.50" cy="58.70" rx="9.50" ry="2.00" fill="url(#rw)" fill-opacity="0.145"/><ellipse cx="59.00" cy="58.70" rx="14.00" ry="2.00" fill="url(#rw)" fill-opacity="0.145"/><ellipse cx="92.00" cy="58.70" rx="11.00" ry="2.00" fill="url(#rw)" fill-opacity="0.145"/><ellipse cx="111.00" cy="58.70" rx="8.00" ry="2.00" fill="url(#rw)" fill-opacity="0.145"/><ellipse cx="139.00" cy="58.70" rx="12.00" ry="2.00" fill="url(#rw)" fill-opacity="0.145"/><ellipse cx="6.00" cy="8.90" rx="3.60" ry="4.20" fill="url(#rw)" fill-opacity="0.218"/><ellipse cx="6.00" cy="16.00" rx="3.00" ry="10.00" fill="url(#rw)" fill-opacity="0.064"/><ellipse cx="36.00" cy="8.90" rx="3.60" ry="4.20" fill="url(#rw)" fill-opacity="0.218"/><ellipse cx="36.00" cy="16.00" rx="3.00" ry="10.00" fill="url(#rw)" fill-opacity="0.064"/><ellipse cx="50.00" cy="8.90" rx="3.60" ry="4.20" fill="url(#rw)" fill-opacity="0.218"/><ellipse cx="50.00" cy="16.00" rx="3.00" ry="10.00" fill="url(#rw)" fill-opacity="0.064"/><ellipse cx="77.00" cy="8.90" rx="3.60" ry="4.20" fill="url(#rw)" fill-opacity="0.218"/><ellipse cx="77.00" cy="16.00" rx="3.00" ry="10.00" fill="url(#rw)" fill-opacity="0.064"/><ellipse cx="95.00" cy="8.90" rx="3.60" ry="4.20" fill="url(#rw)" fill-opacity="0.218"/><ellipse cx="95.00" cy="16.00" rx="3.00" ry="10.00" fill="url(#rw)" fill-opacity="0.064"/><ellipse cx="119.00" cy="8.90" rx="3.60" ry="4.20" fill="url(#rw)" fill-opacity="0.218"/><ellipse cx="119.00" cy="16.00" rx="3.00" ry="10.00" fill="url(#rw)" fill-opacity="0.064"/><ellipse cx="137.00" cy="8.90" rx="3.60" ry="4.20" fill="url(#rw)" fill-opacity="0.218"/><ellipse cx="137.00" cy="16.00" rx="3.00" ry="10.00" fill="url(#rw)" fill-opacity="0.064"/><rect x="49.08" y="2.40" width="1.44" height="81.60" fill="url(#g89)"/><rect x="71.12" y="2.40" width="1.15" height="75.60" fill="url(#g90)"/><rect x="82.80" y="2.40" width="1.01" height="74.60" fill="url(#g91)"/><rect x="16.56" y="2.40" width="1.08" height="75.60" fill="url(#g92)"/><rect x="8.05" y="51.00" width="1.30" height="8.00" fill="url(#g93)"/><rect x="65.75" y="48.70" width="1.30" height="13.00" fill="url(#g94)"/><rect x="91.72" y="51.00" width="1.15" height="8.00" fill="url(#g95)"/><rect x="100.09" y="52.50" width="1.22" height="10.50" fill="url(#g96)"/><rect x="108.69" y="45.70" width="1.22" height="17.30" fill="url(#g97)"/><rect x="120.15" y="50.00" width="1.30" height="10.50" fill="url(#g98)"/><rect x="126.69" y="45.70" width="1.22" height="29.50" fill="url(#g99)"/><rect x="129.10" y="49.00" width="1.01" height="12.00" fill="url(#g100)"/><rect x="132.92" y="51.00" width="1.15" height="8.00" fill="url(#g101)"/><rect x="144.31" y="51.00" width="1.58" height="8.00" fill="url(#g102)"/><rect x="-3.00" y="-3.00" width="154.40" height="11.50" fill="url(#g103)"/><rect x="-3.00" y="109.10" width="154.40" height="5.00" fill="url(#g104)"/></g></g><rect x="0" y="0" width="148.4" height="111.1" fill="none" stroke="#000" stroke-opacity="0.5" stroke-width="0.3"/><path d="M-0.2 111.05H148.60" fill="none" stroke="#402000" stroke-opacity="0.5" stroke-width="0.6"/><path d="M0 111.10h-1.1M0 97.21h-1.1M0 83.32h-1.1M0 69.44h-1.1M0 55.55h-1.1M0 41.66h-1.1M0 27.78h-1.1M0 13.89h-1.1M0 0.00h-1.1M25.00 111.1v1.1M49.80 111.1v1.1M74.60 111.1v1.1M99.40 111.1v1.1M124.20 111.1v1.1" stroke="#000" stroke-width="0.32" fill="none"/><text class="tk" x="-2.95" y="112.75" text-anchor="end">0</text><text class="tk" x="-2.95" y="98.86" text-anchor="end">2,000</text><text class="tk" x="-2.95" y="84.97" text-anchor="end">4,000</text><text class="tk" x="-2.95" y="71.09" text-anchor="end">6,000</text><text class="tk" x="-2.95" y="57.20" text-anchor="end">8,000</text><text class="tk" x="-2.95" y="43.31" text-anchor="end">10,000</text><text class="tk" x="-2.95" y="29.43" text-anchor="end">12,000</text><text class="tk" x="-2.95" y="15.54" text-anchor="end">14,000</text><text class="tk" x="-2.95" y="1.65" text-anchor="end">16,000</text><text class="tk" x="25.00" y="117.00" text-anchor="middle">0.5</text><text class="tk" x="49.80" y="117.00" text-anchor="middle">1.0</text><text class="tk" x="74.60" y="117.00" text-anchor="middle">1.5</text><text class="tk" x="99.40" y="117.00" text-anchor="middle">2.0</text><text class="tk" x="124.20" y="117.00" text-anchor="middle">2.5</text><text class="lb" x="74.20" y="124.80" text-anchor="middle">Time (s)</text><text class="lb ly" transform="translate(-20.2,55.55) rotate(-90)" text-anchor="middle">Frequency (Hz)</text><text class="cp" x="5.05" y="146.80">(<tspan font-weight="bold">e</tspan>) noisy segment at</text><text class="cp" x="118.35" y="146.80" text-anchor="end">−5 dB</text></g><g transform="translate(397.8,175.3)"><g clip-path="url(#c5)"><g filter="url(#f5)"><rect x="-3" y="-3" width="154.4" height="117.1" fill="#959595"/><rect x="-3.00" y="-3.00" width="154.40" height="117.10" fill="url(#g105)"/><rect x="0" y="53.60" width="148.4" height="10.00" fill="url(#g106)"/><rect x="0" y="56.30" width="148.4" height="4.60" fill="url(#g107)"/><rect x="0" y="41.80" width="148.4" height="3.00" fill="url(#g108)"/><rect x="0" y="65.55" width="148.4" height="2.50" fill="url(#g109)"/><rect x="0" y="72.05" width="148.4" height="2.50" fill="url(#g110)"/><rect x="0" y="79.80" width="148.4" height="5.00" fill="url(#g111)"/><rect x="0" y="91.50" width="148.4" height="2.20" fill="url(#g112)"/><ellipse cx="33.00" cy="92.60" rx="15.00" ry="1.40" fill="url(#rw)" fill-opacity="0.123"/><ellipse cx="79.00" cy="92.60" rx="13.00" ry="1.40" fill="url(#rw)" fill-opacity="0.123"/><ellipse cx="111.50" cy="92.60" rx="4.50" ry="1.40" fill="url(#rw)" fill-opacity="0.123"/><ellipse cx="129.00" cy="92.60" rx="6.00" ry="1.40" fill="url(#rw)" fill-opacity="0.123"/><ellipse cx="7.00" cy="58.70" rx="10.00" ry="2.00" fill="url(#rw)" fill-opacity="0.164"/><ellipse cx="33.50" cy="58.70" rx="9.50" ry="2.00" fill="url(#rw)" fill-opacity="0.164"/><ellipse cx="59.00" cy="58.70" rx="14.00" ry="2.00" fill="url(#rw)" fill-opacity="0.164"/><ellipse cx="92.00" cy="58.70" rx="11.00" ry="2.00" fill="url(#rw)" fill-opacity="0.164"/><ellipse cx="111.00" cy="58.70" rx="8.00" ry="2.00" fill="url(#rw)" fill-opacity="0.164"/><ellipse cx="139.00" cy="58.70" rx="12.00" ry="2.00" fill="url(#rw)" fill-opacity="0.164"/><ellipse cx="6.00" cy="8.90" rx="3.60" ry="4.20" fill="url(#rw)" fill-opacity="0.246"/><ellipse cx="6.00" cy="16.00" rx="3.00" ry="10.00" fill="url(#rw)" fill-opacity="0.072"/><ellipse cx="36.00" cy="8.90" rx="3.60" ry="4.20" fill="url(#rw)" fill-opacity="0.246"/><ellipse cx="36.00" cy="16.00" rx="3.00" ry="10.00" fill="url(#rw)" fill-opacity="0.072"/><ellipse cx="50.00" cy="8.90" rx="3.60" ry="4.20" fill="url(#rw)" fill-opacity="0.246"/><ellipse cx="50.00" cy="16.00" rx="3.00" ry="10.00" fill="url(#rw)" fill-opacity="0.072"/><ellipse cx="77.00" cy="8.90" rx="3.60" ry="4.20" fill="url(#rw)" fill-opacity="0.246"/><ellipse cx="77.00" cy="16.00" rx="3.00" ry="10.00" fill="url(#rw)" fill-opacity="0.072"/><ellipse cx="95.00" cy="8.90" rx="3.60" ry="4.20" fill="url(#rw)" fill-opacity="0.246"/><ellipse cx="95.00" cy="16.00" rx="3.00" ry="10.00" fill="url(#rw)" fill-opacity="0.072"/><ellipse cx="119.00" cy="8.90" rx="3.60" ry="4.20" fill="url(#rw)" fill-opacity="0.246"/><ellipse cx="119.00" cy="16.00" rx="3.00" ry="10.00" fill="url(#rw)" fill-opacity="0.072"/><ellipse cx="137.00" cy="8.90" rx="3.60" ry="4.20" fill="url(#rw)" fill-opacity="0.246"/><ellipse cx="137.00" cy="16.00" rx="3.00" ry="10.00" fill="url(#rw)" fill-opacity="0.072"/><rect x="49.08" y="2.40" width="1.44" height="81.60" fill="url(#g113)"/><rect x="71.12" y="2.40" width="1.15" height="75.60" fill="url(#g114)"/><rect x="82.80" y="2.40" width="1.01" height="74.60" fill="url(#g115)"/><rect x="16.56" y="2.40" width="1.08" height="75.60" fill="url(#g116)"/><rect x="8.05" y="51.00" width="1.30" height="8.00" fill="url(#g117)"/><rect x="65.75" y="48.70" width="1.30" height="13.00" fill="url(#g118)"/><rect x="91.72" y="51.00" width="1.15" height="8.00" fill="url(#g119)"/><rect x="100.09" y="52.50" width="1.22" height="10.50" fill="url(#g120)"/><rect x="108.69" y="45.70" width="1.22" height="17.30" fill="url(#g121)"/><rect x="120.15" y="50.00" width="1.30" height="10.50" fill="url(#g122)"/><rect x="126.69" y="45.70" width="1.22" height="29.50" fill="url(#g123)"/><rect x="129.10" y="49.00" width="1.01" height="12.00" fill="url(#g124)"/><rect x="132.92" y="51.00" width="1.15" height="8.00" fill="url(#g125)"/><rect x="144.31" y="51.00" width="1.58" height="8.00" fill="url(#g126)"/><rect x="-3.00" y="-3.00" width="154.40" height="11.50" fill="url(#g127)"/><rect x="-3.00" y="109.10" width="154.40" height="5.00" fill="url(#g128)"/></g></g><rect x="0" y="0" width="148.4" height="111.1" fill="none" stroke="#000" stroke-opacity="0.5" stroke-width="0.3"/><path d="M-0.2 111.05H148.60" fill="none" stroke="#402000" stroke-opacity="0.5" stroke-width="0.6"/><path d="M0 111.10h-1.1M0 97.21h-1.1M0 83.32h-1.1M0 69.44h-1.1M0 55.55h-1.1M0 41.66h-1.1M0 27.78h-1.1M0 13.89h-1.1M0 0.00h-1.1M25.00 111.1v1.1M49.80 111.1v1.1M74.60 111.1v1.1M99.40 111.1v1.1M124.20 111.1v1.1" stroke="#000" stroke-width="0.32" fill="none"/><text class="tk" x="-2.95" y="112.75" text-anchor="end">0</text><text class="tk" x="-2.95" y="98.86" text-anchor="end">2,000</text><text class="tk" x="-2.95" y="84.97" text-anchor="end">4,000</text><text class="tk" x="-2.95" y="71.09" text-anchor="end">6,000</text><text class="tk" x="-2.95" y="57.20" text-anchor="end">8,000</text><text class="tk" x="-2.95" y="43.31" text-anchor="end">10,000</text><text class="tk" x="-2.95" y="29.43" text-anchor="end">12,000</text><text class="tk" x="-2.95" y="15.54" text-anchor="end">14,000</text><text class="tk" x="-2.95" y="1.65" text-anchor="end">16,000</text><text class="tk" x="25.00" y="117.00" text-anchor="middle">0.5</text><text class="tk" x="49.80" y="117.00" text-anchor="middle">1.0</text><text class="tk" x="74.60" y="117.00" text-anchor="middle">1.5</text><text class="tk" x="99.40" y="117.00" text-anchor="middle">2.0</text><text class="tk" x="124.20" y="117.00" text-anchor="middle">2.5</text><text class="lb" x="74.20" y="124.80" text-anchor="middle">Time (s)</text><text class="lb ly" transform="translate(-20.2,55.55) rotate(-90)" text-anchor="middle">Frequency (Hz)</text><text class="cp" x="2.45" y="146.80">(<tspan font-weight="bold">f</tspan>) noisy segment at</text><text class="cp" x="119.55" y="146.80" text-anchor="end">−7.5 dB</text></g><g transform="translate(28.2,341.4)"><g clip-path="url(#c6)"><g filter="url(#f6)"><rect x="-3" y="-3" width="154.4" height="117.1" fill="#969696"/><rect x="-3.00" y="-3.00" width="154.40" height="117.10" fill="url(#g129)"/><rect x="0" y="53.60" width="148.4" height="10.00" fill="url(#g130)"/><rect x="0" y="56.30" width="148.4" height="4.60" fill="url(#g131)"/><rect x="0" y="41.80" width="148.4" height="3.00" fill="url(#g132)"/><rect x="0" y="65.55" width="148.4" height="2.50" fill="url(#g133)"/><rect x="0" y="72.05" width="148.4" height="2.50" fill="url(#g134)"/><rect x="0" y="79.80" width="148.4" height="5.00" fill="url(#g135)"/><rect x="0" y="91.50" width="148.4" height="2.20" fill="url(#g136)"/><ellipse cx="33.00" cy="92.60" rx="15.00" ry="1.40" fill="url(#rw)" fill-opacity="0.146"/><ellipse cx="79.00" cy="92.60" rx="13.00" ry="1.40" fill="url(#rw)" fill-opacity="0.146"/><ellipse cx="111.50" cy="92.60" rx="4.50" ry="1.40" fill="url(#rw)" fill-opacity="0.146"/><ellipse cx="129.00" cy="92.60" rx="6.00" ry="1.40" fill="url(#rw)" fill-opacity="0.146"/><ellipse cx="7.00" cy="58.70" rx="10.00" ry="2.00" fill="url(#rw)" fill-opacity="0.195"/><ellipse cx="33.50" cy="58.70" rx="9.50" ry="2.00" fill="url(#rw)" fill-opacity="0.195"/><ellipse cx="59.00" cy="58.70" rx="14.00" ry="2.00" fill="url(#rw)" fill-opacity="0.195"/><ellipse cx="92.00" cy="58.70" rx="11.00" ry="2.00" fill="url(#rw)" fill-opacity="0.195"/><ellipse cx="111.00" cy="58.70" rx="8.00" ry="2.00" fill="url(#rw)" fill-opacity="0.195"/><ellipse cx="139.00" cy="58.70" rx="12.00" ry="2.00" fill="url(#rw)" fill-opacity="0.195"/><ellipse cx="6.00" cy="8.90" rx="3.60" ry="4.20" fill="url(#rw)" fill-opacity="0.293"/><ellipse cx="6.00" cy="16.00" rx="3.00" ry="10.00" fill="url(#rw)" fill-opacity="0.085"/><ellipse cx="36.00" cy="8.90" rx="3.60" ry="4.20" fill="url(#rw)" fill-opacity="0.293"/><ellipse cx="36.00" cy="16.00" rx="3.00" ry="10.00" fill="url(#rw)" fill-opacity="0.085"/><ellipse cx="50.00" cy="8.90" rx="3.60" ry="4.20" fill="url(#rw)" fill-opacity="0.293"/><ellipse cx="50.00" cy="16.00" rx="3.00" ry="10.00" fill="url(#rw)" fill-opacity="0.085"/><ellipse cx="77.00" cy="8.90" rx="3.60" ry="4.20" fill="url(#rw)" fill-opacity="0.293"/><ellipse cx="77.00" cy="16.00" rx="3.00" ry="10.00" fill="url(#rw)" fill-opacity="0.085"/><ellipse cx="95.00" cy="8.90" rx="3.60" ry="4.20" fill="url(#rw)" fill-opacity="0.293"/><ellipse cx="95.00" cy="16.00" rx="3.00" ry="10.00" fill="url(#rw)" fill-opacity="0.085"/><ellipse cx="119.00" cy="8.90" rx="3.60" ry="4.20" fill="url(#rw)" fill-opacity="0.293"/><ellipse cx="119.00" cy="16.00" rx="3.00" ry="10.00" fill="url(#rw)" fill-opacity="0.085"/><ellipse cx="137.00" cy="8.90" rx="3.60" ry="4.20" fill="url(#rw)" fill-opacity="0.293"/><ellipse cx="137.00" cy="16.00" rx="3.00" ry="10.00" fill="url(#rw)" fill-opacity="0.085"/><rect x="49.08" y="2.40" width="1.44" height="81.60" fill="url(#g137)"/><rect x="71.12" y="2.40" width="1.15" height="75.60" fill="url(#g138)"/><rect x="82.80" y="2.40" width="1.01" height="74.60" fill="url(#g139)"/><rect x="16.56" y="2.40" width="1.08" height="75.60" fill="url(#g140)"/><rect x="8.05" y="51.00" width="1.30" height="8.00" fill="url(#g141)"/><rect x="65.75" y="48.70" width="1.30" height="13.00" fill="url(#g142)"/><rect x="91.72" y="51.00" width="1.15" height="8.00" fill="url(#g143)"/><rect x="100.09" y="52.50" width="1.22" height="10.50" fill="url(#g144)"/><rect x="108.69" y="45.70" width="1.22" height="17.30" fill="url(#g145)"/><rect x="120.15" y="50.00" width="1.30" height="10.50" fill="url(#g146)"/><rect x="126.69" y="45.70" width="1.22" height="29.50" fill="url(#g147)"/><rect x="129.10" y="49.00" width="1.01" height="12.00" fill="url(#g148)"/><rect x="132.92" y="51.00" width="1.15" height="8.00" fill="url(#g149)"/><rect x="144.31" y="51.00" width="1.58" height="8.00" fill="url(#g150)"/><rect x="-3.00" y="-3.00" width="154.40" height="11.50" fill="url(#g151)"/><rect x="-3.00" y="109.10" width="154.40" height="5.00" fill="url(#g152)"/></g></g><rect x="0" y="0" width="148.4" height="111.1" fill="none" stroke="#000" stroke-opacity="0.5" stroke-width="0.3"/><path d="M-0.2 111.05H148.60" fill="none" stroke="#402000" stroke-opacity="0.5" stroke-width="0.6"/><path d="M0 111.10h-1.1M0 97.21h-1.1M0 83.32h-1.1M0 69.44h-1.1M0 55.55h-1.1M0 41.66h-1.1M0 27.78h-1.1M0 13.89h-1.1M0 0.00h-1.1M25.00 111.1v1.1M49.80 111.1v1.1M74.60 111.1v1.1M99.40 111.1v1.1M124.20 111.1v1.1" stroke="#000" stroke-width="0.32" fill="none"/><text class="tk" x="-2.95" y="112.75" text-anchor="end">0</text><text class="tk" x="-2.95" y="98.86" text-anchor="end">2,000</text><text class="tk" x="-2.95" y="84.97" text-anchor="end">4,000</text><text class="tk" x="-2.95" y="71.09" text-anchor="end">6,000</text><text class="tk" x="-2.95" y="57.20" text-anchor="end">8,000</text><text class="tk" x="-2.95" y="43.31" text-anchor="end">10,000</text><text class="tk" x="-2.95" y="29.43" text-anchor="end">12,000</text><text class="tk" x="-2.95" y="15.54" text-anchor="end">14,000</text><text class="tk" x="-2.95" y="1.65" text-anchor="end">16,000</text><text class="tk" x="25.00" y="117.00" text-anchor="middle">0.5</text><text class="tk" x="49.80" y="117.00" text-anchor="middle">1.0</text><text class="tk" x="74.60" y="117.00" text-anchor="middle">1.5</text><text class="tk" x="99.40" y="117.00" text-anchor="middle">2.0</text><text class="tk" x="124.20" y="117.00" text-anchor="middle">2.5</text><text class="lb" x="74.20" y="124.80" text-anchor="middle">Time (s)</text><text class="lb ly" transform="translate(-20.2,55.55) rotate(-90)" text-anchor="middle">Frequency (Hz)</text><text class="cp" x="2.55" y="146.80">(<tspan font-weight="bold">g</tspan>) noisy segment at</text><text class="cp" x="120.85" y="146.80" text-anchor="end">−10 dB</text></g>
</svg>
</body></html>
